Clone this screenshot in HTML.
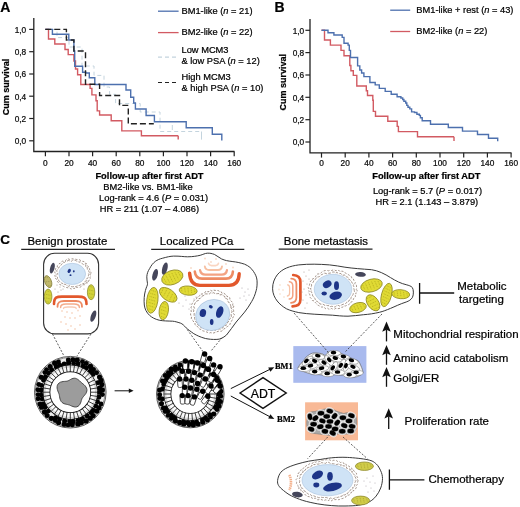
<!DOCTYPE html>
<html><head><meta charset="utf-8"><style>
html,body{margin:0;padding:0;background:#fff;}
svg{display:block;}
text{stroke:#000;stroke-width:0.22px;}
</style></head><body>
<svg width="520" height="507" viewBox="0 0 520 507">
<rect width="520" height="507" fill="#fff"/>
<g font-family='"Liberation Sans", Arial, sans-serif'>
<text x="0.2" y="11.9" font-size="14" text-anchor="start" font-weight="bold" >A</text>
<path d="M33.8,17.9 V151.5 H234.50000000000003" fill="none" stroke="#222" stroke-width="1.3"/>
<path d="M29.199999999999996,140.8 H33.8" stroke="#222" stroke-width="1.2"/>
<text x="26.2" y="144.1" font-size="8.3" text-anchor="end" font-weight="normal" fill="#111">0,0</text>
<path d="M29.199999999999996,118.5 H33.8" stroke="#222" stroke-width="1.2"/>
<text x="26.2" y="121.8" font-size="8.3" text-anchor="end" font-weight="normal" fill="#111">0,2</text>
<path d="M29.199999999999996,96.2 H33.8" stroke="#222" stroke-width="1.2"/>
<text x="26.2" y="99.5" font-size="8.3" text-anchor="end" font-weight="normal" fill="#111">0,4</text>
<path d="M29.199999999999996,74.0 H33.8" stroke="#222" stroke-width="1.2"/>
<text x="26.2" y="77.3" font-size="8.3" text-anchor="end" font-weight="normal" fill="#111">0,6</text>
<path d="M29.199999999999996,51.7 H33.8" stroke="#222" stroke-width="1.2"/>
<text x="26.2" y="55.0" font-size="8.3" text-anchor="end" font-weight="normal" fill="#111">0,8</text>
<path d="M29.199999999999996,29.4 H33.8" stroke="#222" stroke-width="1.2"/>
<text x="26.2" y="32.7" font-size="8.3" text-anchor="end" font-weight="normal" fill="#111">1,0</text>
<path d="M45.4,151.5 V156.3" stroke="#222" stroke-width="1.2"/>
<text x="45.4" y="165.9" font-size="8.3" text-anchor="middle" font-weight="normal" fill="#111">0</text>
<path d="M69.0,151.5 V156.3" stroke="#222" stroke-width="1.2"/>
<text x="69.0" y="165.9" font-size="8.3" text-anchor="middle" font-weight="normal" fill="#111">20</text>
<path d="M92.6,151.5 V156.3" stroke="#222" stroke-width="1.2"/>
<text x="92.6" y="165.9" font-size="8.3" text-anchor="middle" font-weight="normal" fill="#111">40</text>
<path d="M116.2,151.5 V156.3" stroke="#222" stroke-width="1.2"/>
<text x="116.2" y="165.9" font-size="8.3" text-anchor="middle" font-weight="normal" fill="#111">60</text>
<path d="M139.8,151.5 V156.3" stroke="#222" stroke-width="1.2"/>
<text x="139.8" y="165.9" font-size="8.3" text-anchor="middle" font-weight="normal" fill="#111">80</text>
<path d="M163.4,151.5 V156.3" stroke="#222" stroke-width="1.2"/>
<text x="163.4" y="165.9" font-size="8.3" text-anchor="middle" font-weight="normal" fill="#111">100</text>
<path d="M187.0,151.5 V156.3" stroke="#222" stroke-width="1.2"/>
<text x="187.0" y="165.9" font-size="8.3" text-anchor="middle" font-weight="normal" fill="#111">120</text>
<path d="M210.6,151.5 V156.3" stroke="#222" stroke-width="1.2"/>
<text x="210.6" y="165.9" font-size="8.3" text-anchor="middle" font-weight="normal" fill="#111">140</text>
<path d="M234.2,151.5 V156.3" stroke="#222" stroke-width="1.2"/>
<text x="234.2" y="165.9" font-size="8.3" text-anchor="middle" font-weight="normal" fill="#111">160</text>
<text transform="translate(9,86.9) rotate(-90)" font-size="9" font-weight="bold" text-anchor="middle">Cum survival</text>
<path d="M45.3,29.4 H57 V37.6 H69 V47 H82 V66 H94 V75.4 H104 V87 H109.6 V94.3 H115.6 V103.5 H140.2 V112 H160 V131.5 H201.5" fill="none" stroke="#c4d4de" stroke-width="1.0" stroke-dasharray="4,3"/>
<path d="M172.3,125 V130" stroke="#c4d4de" stroke-width="1"/><path d="M201.5,131.5 V139.6" stroke="#c4d4de" stroke-width="1"/>
<path d="M45.3,29.4 H48.5 V39 H54.8 V44 H65 V49.5 H68.2 V54.6 H73.9 V61 H75.5 V69 H77.6 V74.8 H80.8 V84.5 H90.1 V88.4 H91.9 V94.9 H96 V100.8 H97.2 V110.9 H99.6 V115 H111.2 V120.8 H121.8 V130.9 H141.4 V135.8 H178.2" fill="none" stroke="#d25a62" stroke-width="1.4"/>
<path d="M178.2,135.8 V139.5" stroke="#d25a62" stroke-width="1.4"/>
<path d="M45.3,29.4 H52.4 V34.3 H68.8 V40 H73.9 V51 H74.7 V66.3 H82.6 V72.2 H85.75 V73 H89.3 V77.7 H94.8 V84.5 H126 V90 H130.7 V97.2 H133.7 V103 H135.4 V109 H146.1 V115.5 H154.4 V121.8 H186.2 V127.8 H212.3 V134.2 H221.8 V140.4" fill="none" stroke="#4d70ae" stroke-width="1.4"/>
<path d="M45.3,29.4 H66.4 V40 H73.9 V51 H85.5 V84.3 H99.6 V95.5 H119.5 V105.4 H128.3 V123.8 H153.8" fill="none" stroke="#222" stroke-width="1.4" stroke-dasharray="6,3"/>
<path d="M158,11.2 H178.6" stroke="#4d70ae" stroke-width="1.3"/>
<text x="181.5" y="13.9" font-size="9.3" text-anchor="start" font-weight="normal" >BM1-like (<tspan font-style="italic">n</tspan> = 21)</text>
<path d="M158,32.6 H178.6" stroke="#d25a62" stroke-width="1.3"/>
<text x="181.5" y="35.3" font-size="9.3" text-anchor="start" font-weight="normal" >BM2-like (<tspan font-style="italic">n</tspan> = 22)</text>
<path d="M158,57.1 H178.6" stroke="#c4d4de" stroke-width="1.2" stroke-dasharray="4,3"/>
<text x="181.5" y="52.8" font-size="9.3" text-anchor="start" font-weight="normal" >Low MCM3</text>
<text x="181.5" y="63.6" font-size="9.3" text-anchor="start" font-weight="normal" >&amp; low PSA (<tspan font-style="italic">n</tspan> = 12)</text>
<path d="M158,82.5 H178.6" stroke="#222" stroke-width="1.2" stroke-dasharray="4,3"/>
<text x="181.5" y="80.3" font-size="9.3" text-anchor="start" font-weight="normal" >High MCM3</text>
<text x="181.5" y="91.1" font-size="9.3" text-anchor="start" font-weight="normal" >&amp; high PSA (<tspan font-style="italic">n</tspan> = 10)</text>
<text x="149.5" y="178.8" font-size="9.3" text-anchor="middle" font-weight="bold" >Follow-up after first ADT</text>
<text x="148" y="190.3" font-size="9.3" text-anchor="middle" font-weight="normal" >BM2-like vs. BM1-like</text>
<text x="153.6" y="200.9" font-size="9.3" text-anchor="middle" font-weight="normal" >Log-rank = 4.6 (<tspan font-style="italic">P</tspan> = 0.031)</text>
<text x="149.4" y="211.6" font-size="9.3" text-anchor="middle" font-weight="normal" >HR = 211 (1.07 – 4.086)</text>
<text x="274.6" y="12.0" font-size="14" text-anchor="start" font-weight="bold" >B</text>
<path d="M310,19 V152.8 H511.40000000000003" fill="none" stroke="#222" stroke-width="1.3"/>
<path d="M305.4,142.0 H310" stroke="#222" stroke-width="1.2"/>
<text x="304.2" y="145.3" font-size="8.3" text-anchor="end" font-weight="normal" fill="#111">0,0</text>
<path d="M305.4,119.7 H310" stroke="#222" stroke-width="1.2"/>
<text x="304.2" y="123.0" font-size="8.3" text-anchor="end" font-weight="normal" fill="#111">0,2</text>
<path d="M305.4,97.3 H310" stroke="#222" stroke-width="1.2"/>
<text x="304.2" y="100.6" font-size="8.3" text-anchor="end" font-weight="normal" fill="#111">0,4</text>
<path d="M305.4,75.0 H310" stroke="#222" stroke-width="1.2"/>
<text x="304.2" y="78.3" font-size="8.3" text-anchor="end" font-weight="normal" fill="#111">0,6</text>
<path d="M305.4,52.6 H310" stroke="#222" stroke-width="1.2"/>
<text x="304.2" y="55.9" font-size="8.3" text-anchor="end" font-weight="normal" fill="#111">0,8</text>
<path d="M305.4,30.3 H310" stroke="#222" stroke-width="1.2"/>
<text x="304.2" y="33.6" font-size="8.3" text-anchor="end" font-weight="normal" fill="#111">1,0</text>
<path d="M321.5,152.8 V157.60000000000002" stroke="#222" stroke-width="1.2"/>
<text x="321.5" y="166.2" font-size="8.3" text-anchor="middle" font-weight="normal" fill="#111">0</text>
<path d="M345.2,152.8 V157.60000000000002" stroke="#222" stroke-width="1.2"/>
<text x="345.2" y="166.2" font-size="8.3" text-anchor="middle" font-weight="normal" fill="#111">20</text>
<path d="M368.9,152.8 V157.60000000000002" stroke="#222" stroke-width="1.2"/>
<text x="368.9" y="166.2" font-size="8.3" text-anchor="middle" font-weight="normal" fill="#111">40</text>
<path d="M392.6,152.8 V157.60000000000002" stroke="#222" stroke-width="1.2"/>
<text x="392.6" y="166.2" font-size="8.3" text-anchor="middle" font-weight="normal" fill="#111">60</text>
<path d="M416.3,152.8 V157.60000000000002" stroke="#222" stroke-width="1.2"/>
<text x="416.3" y="166.2" font-size="8.3" text-anchor="middle" font-weight="normal" fill="#111">80</text>
<path d="M440.0,152.8 V157.60000000000002" stroke="#222" stroke-width="1.2"/>
<text x="440.0" y="166.2" font-size="8.3" text-anchor="middle" font-weight="normal" fill="#111">100</text>
<path d="M463.7,152.8 V157.60000000000002" stroke="#222" stroke-width="1.2"/>
<text x="463.7" y="166.2" font-size="8.3" text-anchor="middle" font-weight="normal" fill="#111">120</text>
<path d="M487.4,152.8 V157.60000000000002" stroke="#222" stroke-width="1.2"/>
<text x="487.4" y="166.2" font-size="8.3" text-anchor="middle" font-weight="normal" fill="#111">140</text>
<path d="M511.1,152.8 V157.60000000000002" stroke="#222" stroke-width="1.2"/>
<text x="511.1" y="166.2" font-size="8.3" text-anchor="middle" font-weight="normal" fill="#111">160</text>
<text transform="translate(285.6,82.2) rotate(-90)" font-size="9" font-weight="bold" text-anchor="middle">Cum survival</text>
<path d="M321.5,30.3 H324.5 V40 H330.4 V45.1 H341 V50.4 H344 V55.7 H349.8 V65.5 H350.9 V70.7 H353.3 V75.4 H356.8 V86 H366.3 V90.8 H367.5 V95.5 H372.8 V100.2 H373.3 V111.4 H375.5 V116.3 H387.8 V121.3 H397.2 V126.4 H398.4 V131.6 H417.5 V136.7 H454" fill="none" stroke="#d25a62" stroke-width="1.4"/>
<path d="M454,136.7 V141" stroke="#d25a62" stroke-width="1.4"/>
<path d="M321.5,30.3 H328 V32.7 H333.9 V35 H342.2 V37.4 H344 V43.3 H348.1 V45.1 H349.3 V50.4 H350.5 V57.5 H357.6 V65.9 H359.8 V70 H361.6 V73 H363.9 V76.6 H369.9 V82.5 H375.2 V84.9 H379.3 V88.4 H385.2 V91.4 H391.2 V94.3 H397.1 V96.7 H400.9 V98 H402.7 V99.5 H403.9 V101.2 H405.7 V103 H406.8 V105.4 H408 V107.2 H409.8 V108.9 H411.6 V111.9 H414.5 V112.5 H416.9 V114.3 H419.3 V115.4 H420.4 V117.8 H422.2 V120.8 H430.5 V124.3 H448.3 V127.5 H462.5 V131.1 H477.5 V134.5 H488.5 V138.3 H497.7 V141.2" fill="none" stroke="#4d70ae" stroke-width="1.4"/>
<path d="M390.2,10.2 H410.2" stroke="#4d70ae" stroke-width="1.3"/>
<text x="416.3" y="13.0" font-size="9.3" text-anchor="start" font-weight="normal" >BM1-like + rest (<tspan font-style="italic">n</tspan> = 43)</text>
<path d="M390.2,31.5 H410.2" stroke="#d25a62" stroke-width="1.3"/>
<text x="416.3" y="34.4" font-size="9.3" text-anchor="start" font-weight="normal" >BM2-like (<tspan font-style="italic">n</tspan> = 22)</text>
<text x="426.3" y="178.8" font-size="9.3" text-anchor="middle" font-weight="bold" >Follow-up after first ADT</text>
<text x="427.5" y="193.8" font-size="9.3" text-anchor="middle" font-weight="normal" >Log-rank = 5.7 (<tspan font-style="italic">P</tspan> = 0.017)</text>
<text x="426.9" y="205.1" font-size="9.3" text-anchor="middle" font-weight="normal" >HR = 2.1 (1.143 – 3.879)</text>
</g>
<g font-family='"Liberation Sans", Arial, sans-serif'>
<text x="0.3" y="243.6" font-size="13.5" text-anchor="start" font-weight="bold" >C</text>
<text x="67.4" y="244.5" font-size="11.4" text-anchor="middle" font-weight="normal" >Benign prostate</text>
<path d="M21.2,249.4 H115" stroke="#222" stroke-width="1.2"/>
<text x="196.6" y="245" font-size="11.4" text-anchor="middle" font-weight="normal" >Localized PCa</text>
<path d="M151.2,249.3 H244.3" stroke="#222" stroke-width="1.2"/>
<text x="325.9" y="244.5" font-size="11.4" text-anchor="middle" font-weight="normal" >Bone metastasis</text>
<path d="M278.7,249.1 H372.5" stroke="#222" stroke-width="1.2"/>
<rect x="43.6" y="253.3" width="55" height="80.6" rx="11" ry="11" fill="#fff" stroke="#333" stroke-width="1.1"/>
<g fill="none" stroke="#8a766a" stroke-width="0.75" stroke-linejoin="round">
<path d="M88.4,273.6 L88.8,274.7 L88.4,275.7 L88.5,276.8 L88.1,277.9 L86.8,278.5 L86.2,279.4 L86.6,281.0 L85.1,281.3 L84.2,282.1 L84.0,283.7 L82.5,283.8 L81.7,284.9 L80.2,284.9 L79.1,285.6 L77.6,285.3 L76.5,286.3 L75.2,286.8 L73.8,286.4 L72.5,286.8 L71.1,286.6 L69.9,285.6 L68.4,286.3 L67.2,285.7 L66.1,284.9 L65.1,284.1 L63.3,284.6 L62.6,283.4 L61.4,283.0 L60.2,282.3 L59.6,281.3 L58.6,280.6 L58.6,279.2 L57.5,278.5 L57.5,277.3 L56.5,276.4 L56.3,275.3 L57.4,274.1 L57.3,273.1 L57.3,272.0 L56.4,270.8 L57.6,269.9 L57.7,268.8 L58.7,268.0 L59.1,267.0 L60.0,266.2 L60.8,265.4 L61.5,264.3 L62.5,263.6 L63.3,262.6 L64.7,262.3 L65.7,261.4 L67.0,261.1 L68.3,260.5 L69.8,260.8 L71.2,261.4 L72.5,260.2 L73.8,260.1 L75.2,260.3 L76.5,261.0 L77.8,261.1 L78.8,262.2 L80.5,261.8 L81.4,262.7 L82.3,263.6 L83.1,264.6 L84.9,264.5 L85.9,265.2 L85.6,266.8 L87.2,267.2 L87.3,268.4 L87.4,269.6 L88.0,270.5 L89.0,271.4 L89.3,272.5 L88.1,273.6" stroke-dasharray="2.8,1.3"/>
<path d="M91.0,273.6 L90.0,274.8 L90.9,276.1 L90.0,277.2 L90.3,278.6 L89.9,279.9 L88.6,280.7 L88.4,282.2 L86.7,282.6 L85.4,283.3 L84.9,284.7 L83.2,284.8 L82.2,285.7 L81.1,286.6 L79.8,287.4 L78.2,287.2 L76.7,287.3 L75.5,288.8 L73.9,288.1 L72.4,289.1 L70.9,288.9 L69.5,287.9 L68.0,287.8 L66.5,287.5 L65.1,287.2 L63.7,286.5 L62.5,285.8 L61.2,285.1 L59.8,284.6 L59.2,283.3 L58.3,282.2 L57.1,281.4 L57.0,280.0 L56.4,278.9 L54.9,278.1 L55.2,276.7 L54.9,275.5 L55.6,274.2 L55.0,273.0 L54.8,271.7 L55.9,270.7 L55.4,269.3 L55.9,268.1 L57.3,267.3 L57.3,265.8 L58.3,264.9 L59.0,263.8 L60.4,263.2 L61.1,262.0 L62.3,261.2 L64.2,261.4 L65.4,260.8 L66.4,259.5 L67.8,258.7 L69.5,259.4 L70.9,259.0 L72.4,258.7 L73.9,259.1 L75.4,259.2 L76.8,259.5 L78.3,259.7 L79.8,259.8 L81.0,260.8 L82.3,261.3 L83.9,261.5 L84.4,263.1 L86.0,263.4 L87.2,264.2 L87.5,265.6 L88.2,266.7 L89.6,267.4 L89.4,268.9 L89.8,270.0 L90.4,271.2 L91.0,272.3 L90.2,273.6" stroke-dasharray="2.2,1.6"/>
</g>
<ellipse cx="72.2" cy="273.9" rx="13.4" ry="10.6" fill="#cfe3f6" stroke="#9fb8d6" stroke-width="0.5" />
<ellipse cx="69.2" cy="270.9" rx="1.5" ry="2.2" transform="rotate(30 69.2 270.9)" fill="#1d3487" stroke="none" stroke-width="1" />
<ellipse cx="73.8" cy="271.3" rx="0.9" ry="1.1" fill="#1d3487" stroke="none" stroke-width="1" />
<ellipse cx="70.5" cy="275.2" rx="1.0" ry="0.9" fill="#1d3487" stroke="none" stroke-width="1" />
<ellipse cx="52.3" cy="268.2" rx="2.2" ry="5.5" transform="rotate(15 52.3 268.2)" fill="#45465a" stroke="none" stroke-width="1" />
<ellipse cx="93.3" cy="316.1" rx="2.4" ry="6" transform="rotate(20 93.3 316.1)" fill="#45465a" stroke="none" stroke-width="1" />
<g transform="rotate(-20 48.1 281.6)">
<ellipse cx="48.1" cy="281.6" rx="3.3" ry="6.2" fill="#c0b86a" stroke="#8a8440" stroke-width="0.8"/>
<path d="M46.7,276.6 L49.5,277.6 M46.1,281.1 L50.1,282.1 M46.7,285.6 L49.5,286.6 " stroke="#a09a50" stroke-width="0.8" stroke-dasharray="1,0.8" fill="none"/>
</g>
<g>
<ellipse cx="48.1" cy="296.6" rx="3.8" ry="7.5" fill="#d2d23a" stroke="#8f9030" stroke-width="0.8"/>
<path d="M46.5,290.7 L49.7,291.7 M45.9,294.3 L50.3,295.3 M45.9,297.9 L50.3,298.9 M46.5,301.5 L49.7,302.5 " stroke="#a8a828" stroke-width="0.8" stroke-dasharray="1,0.8" fill="none"/>
</g>
<g>
<ellipse cx="91.1" cy="292.2" rx="3.7" ry="7.5" fill="#d2d23a" stroke="#8f9030" stroke-width="0.8"/>
<path d="M89.6,286.3 L92.6,287.3 M88.9,289.9 L93.3,290.9 M88.9,293.5 L93.3,294.5 M89.6,297.1 L92.6,298.1 " stroke="#a8a828" stroke-width="0.8" stroke-dasharray="1,0.8" fill="none"/>
</g>
<path d="M54,304 C54,297 57,296.6 62,296.6 H78 C83,296.6 86.5,297 86.5,304" fill="none" stroke="#e2582c" stroke-width="2.6" stroke-linecap="round"/>
<path d="M57.5,306.8 C57.5,302 60,301 64,301 H76 C80,301 82,302 82,306.8" fill="none" stroke="#ee8a62" stroke-width="1.8" stroke-linecap="round"/>
<path d="M60.6,307.4 C60.6,305 62,304 66,304 H74 C78,304 79.4,305 79.4,307.4" fill="none" stroke="#f4ad8c" stroke-width="1.5" stroke-linecap="round"/>
<path d="M63.5,308.6 C63.5,307.4 65,307 68,307 H72 C75,307 76.2,307.4 76.2,308.6" fill="none" stroke="#f8cbb4" stroke-width="1.3" stroke-linecap="round"/>
<circle cx="62" cy="311" r="1.0" fill="#f9dccb"/>
<circle cx="67" cy="312" r="1.0" fill="#f9dccb"/>
<circle cx="72" cy="313" r="1.0" fill="#f9dccb"/>
<circle cx="78" cy="310.5" r="1.0" fill="#f9dccb"/>
<circle cx="65" cy="317" r="1.0" fill="#f9dccb"/>
<circle cx="70" cy="318" r="1.0" fill="#f9dccb"/>
<circle cx="75" cy="318" r="1.0" fill="#f9dccb"/>
<circle cx="80" cy="316" r="1.0" fill="#f9dccb"/>
<circle cx="61" cy="322" r="1.0" fill="#f9dccb"/>
<circle cx="66" cy="324" r="1.0" fill="#f9dccb"/>
<circle cx="71" cy="326" r="1.0" fill="#f9dccb"/>
<circle cx="80" cy="325" r="1.0" fill="#f9dccb"/>
<circle cx="75" cy="329" r="1.0" fill="#f9dccb"/>
<circle cx="68" cy="330" r="1.0" fill="#f9dccb"/>
<circle cx="57" cy="285" r="0.5" fill="#9a8c86"/>
<circle cx="60" cy="287" r="0.5" fill="#9a8c86"/>
<circle cx="87" cy="283" r="0.5" fill="#9a8c86"/>
<circle cx="89" cy="286" r="0.5" fill="#9a8c86"/>
<circle cx="55" cy="289" r="0.5" fill="#9a8c86"/>
<circle cx="61" cy="290" r="0.5" fill="#9a8c86"/>
<circle cx="84" cy="289" r="0.5" fill="#9a8c86"/>
<circle cx="58" cy="292" r="0.5" fill="#9a8c86"/>
<circle cx="88" cy="281" r="0.5" fill="#9a8c86"/>
<circle cx="63" cy="289" r="0.5" fill="#9a8c86"/>
<path d="M52.5,334 L64,356 M91,334 L77,356" stroke="#333" stroke-width="0.8" stroke-dasharray="2,1.6" fill="none"/>
<circle cx="70.3" cy="392.2" r="35.8" fill="#fff" stroke="#333" stroke-width="0.8"/>
<circle cx="70.3" cy="392.2" r="30.799999999999997" fill="none" stroke="#eeeeee" stroke-width="7.199999999999999"/>
<circle cx="70.3" cy="392.2" r="34.699999999999996" fill="none" stroke="#444" stroke-width="0.6"/>
<circle cx="99.7" cy="392.3" r="2.54" fill="#000"/><circle cx="98.8" cy="397.0" r="2.55" fill="#000"/><circle cx="97.5" cy="401.7" r="2.49" fill="#000"/><circle cx="96.0" cy="406.2" r="2.41" fill="#000"/><circle cx="93.2" cy="410.3" r="2.58" fill="#000"/><circle cx="91.0" cy="412.7" r="2.42" fill="#000"/><circle cx="86.9" cy="415.6" r="2.54" fill="#000"/><circle cx="82.3" cy="418.7" r="2.59" fill="#000"/><circle cx="78.2" cy="420.2" r="2.48" fill="#000"/><circle cx="73.1" cy="421.4" r="2.61" fill="#000"/><circle cx="69.5" cy="421.1" r="2.42" fill="#000"/><circle cx="64.6" cy="421.0" r="2.52" fill="#000"/><circle cx="59.7" cy="418.9" r="2.46" fill="#000"/><circle cx="55.6" cy="417.8" r="2.52" fill="#000"/><circle cx="48.4" cy="411.1" r="2.43" fill="#000"/><circle cx="45.2" cy="407.3" r="2.44" fill="#000"/><circle cx="44.1" cy="404.0" r="2.64" fill="#000"/><circle cx="42.1" cy="399.1" r="2.46" fill="#000"/><circle cx="41.2" cy="395.1" r="2.43" fill="#000"/><circle cx="41.4" cy="390.3" r="2.69" fill="#000"/><circle cx="41.7" cy="385.4" r="2.46" fill="#000"/><circle cx="43.6" cy="380.3" r="2.43" fill="#000"/><circle cx="45.6" cy="377.1" r="2.63" fill="#000"/><circle cx="48.6" cy="373.3" r="2.43" fill="#000"/><circle cx="51.6" cy="369.8" r="2.51" fill="#000"/><circle cx="56.3" cy="366.7" r="2.57" fill="#000"/><circle cx="59.7" cy="365.4" r="2.67" fill="#000"/><circle cx="64.2" cy="364.0" r="2.62" fill="#000"/><circle cx="68.7" cy="362.8" r="2.66" fill="#000"/><circle cx="73.7" cy="363.6" r="2.41" fill="#000"/><circle cx="78.1" cy="364.0" r="2.48" fill="#000"/><circle cx="82.8" cy="366.1" r="2.45" fill="#000"/><circle cx="86.2" cy="368.1" r="2.57" fill="#000"/><circle cx="90.5" cy="371.5" r="2.68" fill="#000"/><circle cx="93.0" cy="374.3" r="2.53" fill="#000"/><circle cx="97.9" cy="382.8" r="2.44" fill="#000"/><circle cx="99.5" cy="388.0" r="2.60" fill="#000"/><circle cx="102.4" cy="394.6" r="2.41" fill="#000"/><circle cx="101.0" cy="404.0" r="2.41" fill="#000"/><circle cx="99.0" cy="407.8" r="2.50" fill="#000"/><circle cx="96.8" cy="411.1" r="2.62" fill="#000"/><circle cx="93.1" cy="415.6" r="2.64" fill="#000"/><circle cx="90.1" cy="418.2" r="2.67" fill="#000"/><circle cx="86.1" cy="420.9" r="2.66" fill="#000"/><circle cx="81.4" cy="422.6" r="2.57" fill="#000"/><circle cx="77.9" cy="423.9" r="2.70" fill="#000"/><circle cx="72.2" cy="424.6" r="2.62" fill="#000"/><circle cx="68.1" cy="424.9" r="2.43" fill="#000"/><circle cx="64.1" cy="424.2" r="2.54" fill="#000"/><circle cx="58.6" cy="422.5" r="2.58" fill="#000"/><circle cx="55.3" cy="420.6" r="2.49" fill="#000"/><circle cx="51.4" cy="418.3" r="2.67" fill="#000"/><circle cx="47.2" cy="415.5" r="2.50" fill="#000"/><circle cx="44.6" cy="412.0" r="2.64" fill="#000"/><circle cx="41.6" cy="407.2" r="2.57" fill="#000"/><circle cx="40.1" cy="404.1" r="2.65" fill="#000"/><circle cx="38.1" cy="398.8" r="2.48" fill="#000"/><circle cx="38.1" cy="394.6" r="2.46" fill="#000"/><circle cx="37.9" cy="389.7" r="2.49" fill="#000"/><circle cx="38.8" cy="384.5" r="2.42" fill="#000"/><circle cx="41.3" cy="377.2" r="2.57" fill="#000"/><circle cx="44.9" cy="372.6" r="2.44" fill="#000"/><circle cx="46.6" cy="369.6" r="2.47" fill="#000"/><circle cx="50.2" cy="366.5" r="2.53" fill="#000"/><circle cx="54.8" cy="363.3" r="2.69" fill="#000"/><circle cx="58.5" cy="361.9" r="2.45" fill="#000"/><circle cx="68.3" cy="360.0" r="2.48" fill="#000"/><circle cx="72.9" cy="359.8" r="2.58" fill="#000"/><circle cx="77.1" cy="360.2" r="2.67" fill="#000"/><circle cx="82.4" cy="361.8" r="2.44" fill="#000"/><circle cx="86.2" cy="363.5" r="2.51" fill="#000"/><circle cx="90.4" cy="366.4" r="2.68" fill="#000"/><circle cx="93.3" cy="369.6" r="2.62" fill="#000"/><circle cx="96.6" cy="372.8" r="2.46" fill="#000"/><circle cx="99.5" cy="377.1" r="2.56" fill="#000"/><circle cx="101.0" cy="380.5" r="2.66" fill="#000"/><circle cx="101.9" cy="384.6" r="2.57" fill="#000"/><circle cx="102.3" cy="389.9" r="2.64" fill="#000"/>
<circle cx="70.3" cy="392.2" r="23.799999999999997" fill="none" stroke="#111" stroke-width="7.6000000000000005"/>
<circle cx="70.3" cy="392.2" r="23.799999999999997" fill="none" stroke="#fafafa" stroke-width="5.9"/>
<circle cx="70.3" cy="392.2" r="25.599999999999998" fill="none" stroke="#d8d8d8" stroke-width="1.6"/>
<path d="M90.70,392.20 L97.50,392.20 M90.45,395.39 L97.17,396.46 M89.70,398.50 L96.17,400.61 M88.48,401.46 L94.54,404.55 M86.80,404.19 L92.31,408.19 M84.72,406.62 L89.53,411.43 M82.29,408.70 L86.29,414.21 M79.56,410.38 L82.65,416.44 M76.60,411.60 L78.71,418.07 M73.49,412.35 L74.56,419.07 M70.30,412.60 L70.30,419.40 M67.11,412.35 L66.04,419.07 M64.00,411.60 L61.89,418.07 M61.04,410.38 L57.95,416.44 M58.31,408.70 L54.31,414.21 M55.88,406.62 L51.07,411.43 M53.80,404.19 L48.29,408.19 M52.12,401.46 L46.06,404.55 M50.90,398.50 L44.43,400.61 M50.15,395.39 L43.43,396.46 M49.90,392.20 L43.10,392.20 M50.15,389.01 L43.43,387.94 M50.90,385.90 L44.43,383.79 M52.12,382.94 L46.06,379.85 M53.80,380.21 L48.29,376.21 M55.88,377.78 L51.07,372.97 M58.31,375.70 L54.31,370.19 M61.04,374.02 L57.95,367.96 M64.00,372.80 L61.89,366.33 M67.11,372.05 L66.04,365.33 M70.30,371.80 L70.30,365.00 M73.49,372.05 L74.56,365.33 M76.60,372.80 L78.71,366.33 M79.56,374.02 L82.65,367.96 M82.29,375.70 L86.29,370.19 M84.72,377.78 L89.53,372.97 M86.80,380.21 L92.31,376.21 M88.48,382.94 L94.54,379.85 M89.70,385.90 L96.17,383.79 M90.45,389.01 L97.17,387.94 " stroke="#111" stroke-width="0.8"/>
<path d="M86.5,392.2 L85.9,393.5 L85.1,394.6 L84.2,395.7 L83.4,396.6 L82.7,397.5 L82.1,398.4 L81.7,399.4 L81.3,400.5 L81.0,401.8 L80.5,403.0 L79.9,404.3 L79.1,405.4 L78.1,406.2 L76.9,406.8 L75.6,407.0 L74.3,406.9 L73.0,406.5 L71.8,406.1 L70.7,405.6 L69.6,405.1 L68.6,404.8 L67.5,404.5 L66.4,404.3 L65.2,404.0 L64.1,403.7 L63.0,403.1 L62.0,402.4 L61.2,401.5 L60.6,400.4 L60.1,399.2 L59.8,398.0 L59.6,396.8 L59.4,395.6 L59.2,394.5 L58.8,393.4 L58.3,392.2 L57.8,390.9 L57.4,389.6 L57.1,388.1 L57.1,386.6 L57.4,385.2 L58.1,384.0 L59.1,383.0 L60.4,382.2 L61.8,381.8 L63.2,381.5 L64.5,381.4 L65.8,381.3 L66.9,381.2 L67.9,380.9 L68.8,380.5 L69.7,380.0 L70.7,379.4 L71.8,378.8 L73.0,378.4 L74.2,378.2 L75.4,378.3 L76.5,378.7 L77.6,379.3 L78.6,380.0 L79.5,380.8 L80.3,381.6 L81.2,382.4 L82.1,383.2 L83.1,384.0 L84.1,384.8 L85.1,385.8 L85.9,386.9 L86.5,388.1 L86.9,389.4 L86.9,390.8 Z" fill="#9c9c9c" stroke="#3a3a3a" stroke-width="0.9" stroke-linejoin="round"/>
<path d="M114.6,390.8 H130" stroke="#111" stroke-width="1"/>
<path d="M133.6,390.8 L128.8,388.6 L128.8,393 Z" fill="#111"/>
</g>
<g font-family='"Liberation Sans", Arial, sans-serif'>
<path d="M149.6,268.6 C153,262 157,259.5 162.7,258.2 C167,257 170,256.2 173.7,256.1 C180,256 184,256.8 187.5,256.8 C193,256.8 197,256 200.2,255.3 C203,254.5 205,253.3 207.3,253.2 C210,253 212,253.6 214.4,254.4 C217,255.5 219,257.8 221.5,258.9 C225,260.5 228,261 232.1,261.5 C237,262 241,263 244.6,264.2 C249,266 251.5,268.5 253.4,271.3 C255.5,274.5 256.7,277 257,280.2 C257.3,284 257,288 256.1,290.8 C255,295 253.5,298.5 251.7,301.5 C249.5,305.5 247,309 244.6,312.1 C242,315.5 239,318.5 236.2,322 C233,326 230,331 226.5,335 C223,338 220,339.4 216.9,339.4 C212,339.6 209,339.2 205.4,338.5 C200,337 197,335.5 193.8,333.7 C190,331 188,329.5 186.2,327.9 C184,325.5 182.5,323.8 180.4,323.1 C177,322 175,321.4 172.7,321.2 C168,321 163,321 159.2,320.2 C155,319.2 152,317.5 149.6,315.4 C146.5,312.5 144.8,309 144.3,305 C143.8,300 144.2,295 145.4,290.6 C146.3,287 147.7,285 147.5,283.7 C147.3,281 146.6,279 146.8,276.8 C147,273.5 148,271 149.6,268.6 Z" fill="#fff" stroke="#3a3a3a" stroke-width="1"/>
<g transform="rotate(-15 212.6 311.7)" fill="none" stroke="#8a766a" stroke-width="0.75" stroke-linejoin="round">
<path d="M231.5,311.7 L231.4,313.0 L232.0,314.4 L231.2,315.6 L231.5,317.0 L230.1,317.9 L229.8,319.2 L229.6,320.6 L229.3,321.9 L227.9,322.7 L226.9,323.5 L225.8,324.3 L225.3,325.6 L223.9,326.1 L223.4,327.6 L222.2,328.3 L220.6,328.0 L219.4,328.7 L218.4,329.9 L217.0,330.0 L215.7,330.5 L214.3,329.9 L212.9,329.7 L211.6,329.9 L210.2,330.5 L209.0,329.6 L207.7,329.4 L206.3,329.1 L205.1,328.6 L203.9,328.1 L202.3,328.1 L201.8,326.4 L200.9,325.4 L199.0,325.6 L198.1,324.6 L197.0,323.7 L196.9,322.1 L195.5,321.4 L194.9,320.2 L195.3,318.6 L194.1,317.6 L193.6,316.4 L193.5,315.0 L193.5,313.7 L193.8,312.3 L193.7,311.1 L194.0,309.8 L194.4,308.6 L193.9,307.1 L194.7,306.0 L194.5,304.5 L196.1,303.8 L195.6,302.0 L196.6,301.1 L197.1,299.8 L198.0,298.8 L199.0,297.8 L200.4,297.3 L201.9,297.2 L202.5,295.6 L204.0,295.7 L205.2,294.9 L206.2,294.0 L207.6,293.8 L208.9,293.6 L210.2,292.6 L211.6,293.0 L212.9,293.4 L214.3,293.6 L215.7,292.9 L216.9,293.7 L218.4,293.6 L219.5,294.6 L220.6,295.3 L222.0,295.5 L223.4,295.8 L223.9,297.4 L225.6,297.5 L226.7,298.3 L227.5,299.4 L228.4,300.4 L228.1,302.2 L229.6,302.8 L230.5,303.9 L229.9,305.5 L230.7,306.6 L231.0,307.9 L231.6,309.1 L231.6,310.4 L231.7,311.7" stroke-dasharray="2.8,1.3"/>
<path d="M234.7,311.7 L233.5,313.1 L233.4,314.6 L233.2,316.0 L232.9,317.4 L232.3,318.8 L233.0,320.6 L232.1,321.9 L230.4,322.6 L230.0,324.2 L228.9,325.2 L227.9,326.3 L226.8,327.3 L225.9,328.6 L224.6,329.4 L223.1,329.9 L221.7,330.3 L220.4,331.1 L218.8,331.3 L217.5,332.3 L216.1,332.8 L214.5,332.5 L213.0,332.1 L211.5,332.2 L210.0,332.4 L208.4,332.5 L206.8,332.4 L205.5,331.4 L203.9,331.5 L202.6,330.6 L201.4,329.6 L200.2,328.7 L198.8,328.0 L197.5,327.2 L196.7,325.8 L195.4,325.0 L194.8,323.6 L194.2,322.1 L193.1,321.1 L192.3,319.8 L192.6,318.1 L191.7,316.8 L191.4,315.4 L190.5,314.0 L190.3,312.5 L191.1,311.0 L190.5,309.4 L190.8,307.9 L191.9,306.6 L192.1,305.1 L193.1,303.9 L192.8,302.2 L193.7,300.9 L194.2,299.5 L195.3,298.3 L196.4,297.3 L197.5,296.2 L198.8,295.4 L200.4,295.0 L201.3,293.6 L203.0,293.6 L204.3,292.8 L205.3,291.4 L207.1,292.0 L208.5,291.6 L210.0,291.4 L211.4,290.1 L213.0,291.1 L214.4,291.4 L216.1,290.4 L217.4,291.7 L219.2,291.1 L220.5,291.8 L222.1,292.2 L223.5,292.7 L224.6,294.0 L226.0,294.6 L226.5,296.4 L228.3,296.7 L229.1,298.0 L230.3,299.0 L230.4,300.7 L232.0,301.5 L232.9,302.8 L232.3,304.6 L233.1,305.9 L233.9,307.3 L234.5,308.7 L233.8,310.2 L233.8,311.7" stroke-dasharray="2.2,1.6"/>
</g>
<ellipse cx="212.7" cy="315" rx="17.3" ry="15.3" transform="rotate(-20 212.7 315)" fill="#cfe3f6" stroke="#9fb8d6" stroke-width="0.5" />
<ellipse cx="202.9" cy="313" rx="3.2" ry="4.1" transform="rotate(10 202.9 313)" fill="#1d3487" stroke="none" stroke-width="1" />
<ellipse cx="210.8" cy="306.8" rx="2.0" ry="1.6" transform="rotate(20 210.8 306.8)" fill="#1d3487" stroke="none" stroke-width="1" />
<ellipse cx="219.7" cy="312.1" rx="3.4" ry="6.0" transform="rotate(20 219.7 312.1)" fill="#1d3487" stroke="none" stroke-width="1" />
<ellipse cx="211.7" cy="321.9" rx="1.8" ry="3.0" fill="#1d3487" stroke="none" stroke-width="1" />
<ellipse cx="155.1" cy="274.8" rx="2.6" ry="6.0" transform="rotate(15 155.1 274.8)" fill="#45465a" stroke="none" stroke-width="1" />
<ellipse cx="164.8" cy="268.6" rx="2.6" ry="6.4" transform="rotate(15 164.8 268.6)" fill="#45465a" stroke="none" stroke-width="1" />
<g transform="rotate(-20 172.3 277.5)">
<ellipse cx="172.3" cy="277.5" rx="11" ry="7" fill="#e0da34" stroke="#8f8a22" stroke-width="0.8"/>
<path d="M163.9,274.6 L164.9,280.4 M167.0,273.7 L168.0,281.3 M170.2,273.3 L171.2,281.7 M173.4,273.3 L174.4,281.7 M176.6,273.7 L177.6,281.3 M179.7,274.6 L180.7,280.4 " stroke="#b5ad1c" stroke-width="0.8" stroke-dasharray="1,0.8" fill="none"/>
</g>
<g transform="rotate(8 152.3 300.3)">
<ellipse cx="152.3" cy="300.3" rx="5.6" ry="13" fill="#e0da34" stroke="#8f8a22" stroke-width="0.8"/>
<path d="M150.0,290.4 L154.6,291.4 M149.4,293.6 L155.2,294.6 M149.0,296.7 L155.6,297.7 M148.9,299.8 L155.7,300.8 M149.0,302.9 L155.6,303.9 M149.4,306.0 L155.2,307.0 M150.0,309.2 L154.6,310.2 " stroke="#b5ad1c" stroke-width="0.8" stroke-dasharray="1,0.8" fill="none"/>
</g>
<g transform="rotate(35 168.2 294.8)">
<ellipse cx="168.2" cy="294.8" rx="10" ry="5.6" fill="#e0da34" stroke="#8f8a22" stroke-width="0.8"/>
<path d="M160.5,292.5 L161.5,297.1 M164.1,291.7 L165.1,297.9 M167.7,291.4 L168.7,298.2 M171.3,291.7 L172.3,297.9 M174.9,292.5 L175.9,297.1 " stroke="#b5ad1c" stroke-width="0.8" stroke-dasharray="1,0.8" fill="none"/>
</g>
<g transform="rotate(5 188.2 290.6)">
<ellipse cx="188.2" cy="290.6" rx="9" ry="4.6" fill="#e0da34" stroke="#8f8a22" stroke-width="0.8"/>
<path d="M181.2,288.7 L182.2,292.5 M184.5,288.0 L185.5,293.2 M187.7,287.8 L188.7,293.4 M190.9,288.0 L191.9,293.2 M194.2,288.7 L195.2,292.5 " stroke="#b5ad1c" stroke-width="0.8" stroke-dasharray="1,0.8" fill="none"/>
</g>
<g transform="rotate(8 163.8 310.6)">
<ellipse cx="163.8" cy="310.6" rx="4.6" ry="9.2" fill="#e0da34" stroke="#8f8a22" stroke-width="0.8"/>
<path d="M161.9,303.5 L165.7,304.5 M161.2,306.8 L166.4,307.8 M161.0,310.1 L166.6,311.1 M161.2,313.4 L166.4,314.4 M161.9,316.7 L165.7,317.7 " stroke="#b5ad1c" stroke-width="0.8" stroke-dasharray="1,0.8" fill="none"/>
</g>
<path d="M189.6,273.2 C190,281 193,285.4 200,285.4 H229 C236,285.4 238.9,281 239.2,273.8" fill="none" stroke="#e2582c" stroke-width="3.4" stroke-linecap="round"/>
<path d="M194.8,271.6 C195.3,276.5 197.5,278.6 202,278.6 H226 C230.5,278.6 232.6,276.5 232.9,271.6" fill="none" stroke="#ee8c64" stroke-width="2.6" stroke-linecap="round"/>
<path d="M200,270 C200.5,273 202,274.6 205.5,274.6 H221.5 C225,274.6 226.6,273 227,270" fill="none" stroke="#f3a383" stroke-width="2.2" stroke-linecap="round"/>
<path d="M204.8,266.4 C205.2,268.8 206.5,270 209,270 H218 C220.5,270 221.7,268.8 222,266.4" fill="none" stroke="#f7c0a2" stroke-width="1.9" stroke-linecap="round"/>
<path d="M208.5,263.2 C208.8,264.8 209.8,265.6 211.5,265.6 H215.5 C217.2,265.6 218.2,264.8 218.5,263.2" fill="none" stroke="#fad6c2" stroke-width="1.6" stroke-linecap="round"/>
<circle cx="205" cy="258.5" r="1.0" fill="#f9dccb"/>
<circle cx="211" cy="262" r="1.0" fill="#f9dccb"/>
<circle cx="226" cy="264" r="1.0" fill="#f9dccb"/>
<circle cx="233" cy="267.5" r="1.0" fill="#f9dccb"/>
<circle cx="191" cy="268" r="1.0" fill="#f9dccb"/>
<circle cx="216" cy="259" r="1.0" fill="#f9dccb"/>
<circle cx="242" cy="288" r="0.55" fill="#a8a0a8"/>
<circle cx="245" cy="292" r="0.55" fill="#a8a0a8"/>
<circle cx="248" cy="289" r="0.55" fill="#a8a0a8"/>
<circle cx="244" cy="296" r="0.55" fill="#a8a0a8"/>
<circle cx="249" cy="295" r="0.55" fill="#a8a0a8"/>
<circle cx="240" cy="298" r="0.55" fill="#a8a0a8"/>
<circle cx="246" cy="300" r="0.55" fill="#a8a0a8"/>
<circle cx="186" cy="300" r="0.55" fill="#a8a0a8"/>
<circle cx="190" cy="304" r="0.55" fill="#a8a0a8"/>
<circle cx="194" cy="299" r="0.55" fill="#a8a0a8"/>
<circle cx="183" cy="306" r="0.55" fill="#a8a0a8"/>
<circle cx="189" cy="309" r="0.55" fill="#a8a0a8"/>
<circle cx="196" cy="297" r="0.55" fill="#a8a0a8"/>
<circle cx="185" cy="296" r="0.55" fill="#a8a0a8"/>
<circle cx="179" cy="303" r="0.55" fill="#a8a0a8"/>
<path d="M187.3,329.6 L204,353 M222,337.7 L211,351" stroke="#333" stroke-width="0.8" stroke-dasharray="2,1.6" fill="none"/>
<circle cx="190.3" cy="394" r="33.8" fill="#fff" stroke="#333" stroke-width="0.8"/>
<circle cx="190.3" cy="394" r="29.5" fill="none" stroke="#eeeeee" stroke-width="6.200000000000003"/>
<circle cx="190.3" cy="394" r="32.9" fill="none" stroke="#444" stroke-width="0.6"/>
<circle cx="218.8" cy="394.3" r="2.68" fill="#000"/><circle cx="217.7" cy="399.2" r="2.54" fill="#000"/><circle cx="217.3" cy="403.5" r="2.43" fill="#000"/><circle cx="215.4" cy="407.2" r="2.57" fill="#000"/><circle cx="209.9" cy="414.9" r="2.63" fill="#000"/><circle cx="205.3" cy="417.7" r="2.59" fill="#000"/><circle cx="202.4" cy="419.9" r="2.46" fill="#000"/><circle cx="196.6" cy="421.9" r="2.49" fill="#000"/><circle cx="192.6" cy="422.3" r="2.46" fill="#000"/><circle cx="187.7" cy="422.6" r="2.67" fill="#000"/><circle cx="183.6" cy="421.2" r="2.44" fill="#000"/><circle cx="174.9" cy="417.3" r="2.60" fill="#000"/><circle cx="171.2" cy="415.2" r="2.54" fill="#000"/><circle cx="167.9" cy="411.5" r="2.42" fill="#000"/><circle cx="165.6" cy="408.2" r="2.65" fill="#000"/><circle cx="162.4" cy="398.9" r="2.40" fill="#000"/><circle cx="162.7" cy="388.8" r="2.63" fill="#000"/><circle cx="163.9" cy="384.3" r="2.51" fill="#000"/><circle cx="165.9" cy="380.3" r="2.62" fill="#000"/><circle cx="168.6" cy="376.5" r="2.68" fill="#000"/><circle cx="170.9" cy="373.3" r="2.68" fill="#000"/><circle cx="175.3" cy="370.0" r="2.49" fill="#000"/><circle cx="178.7" cy="368.6" r="2.44" fill="#000"/><circle cx="184.1" cy="366.7" r="2.41" fill="#000"/><circle cx="188.0" cy="365.9" r="2.47" fill="#000"/><circle cx="193.1" cy="365.9" r="2.53" fill="#000"/><circle cx="201.1" cy="367.8" r="2.65" fill="#000"/><circle cx="206.3" cy="370.2" r="2.59" fill="#000"/><circle cx="209.0" cy="372.8" r="2.44" fill="#000"/><circle cx="212.4" cy="376.4" r="2.70" fill="#000"/><circle cx="215.5" cy="381.1" r="2.55" fill="#000"/><circle cx="216.9" cy="384.8" r="2.52" fill="#000"/><circle cx="218.6" cy="389.1" r="2.69" fill="#000"/><circle cx="220.8" cy="396.3" r="2.43" fill="#000"/><circle cx="220.4" cy="401.5" r="2.51" fill="#000"/><circle cx="218.8" cy="405.9" r="2.60" fill="#000"/><circle cx="216.9" cy="409.6" r="2.48" fill="#000"/><circle cx="213.8" cy="413.9" r="2.49" fill="#000"/><circle cx="210.6" cy="417.1" r="2.40" fill="#000"/><circle cx="207.4" cy="419.7" r="2.54" fill="#000"/><circle cx="202.7" cy="422.3" r="2.50" fill="#000"/><circle cx="198.1" cy="424.0" r="2.51" fill="#000"/><circle cx="193.3" cy="424.7" r="2.69" fill="#000"/><circle cx="189.1" cy="424.7" r="2.45" fill="#000"/><circle cx="183.8" cy="424.0" r="2.61" fill="#000"/><circle cx="179.7" cy="422.5" r="2.63" fill="#000"/><circle cx="175.4" cy="420.8" r="2.59" fill="#000"/><circle cx="171.4" cy="418.4" r="2.41" fill="#000"/><circle cx="168.2" cy="415.4" r="2.47" fill="#000"/><circle cx="165.4" cy="411.3" r="2.54" fill="#000"/><circle cx="163.4" cy="408.1" r="2.50" fill="#000"/><circle cx="161.5" cy="403.6" r="2.54" fill="#000"/><circle cx="159.9" cy="398.5" r="2.47" fill="#000"/><circle cx="159.7" cy="394.8" r="2.48" fill="#000"/><circle cx="159.6" cy="389.9" r="2.51" fill="#000"/><circle cx="162.5" cy="380.9" r="2.50" fill="#000"/><circle cx="165.4" cy="375.6" r="2.53" fill="#000"/><circle cx="168.4" cy="372.6" r="2.44" fill="#000"/><circle cx="171.5" cy="369.2" r="2.69" fill="#000"/><circle cx="175.3" cy="366.9" r="2.40" fill="#000"/><circle cx="180.0" cy="365.0" r="2.44" fill="#000"/><circle cx="185.1" cy="363.9" r="2.53" fill="#000"/><circle cx="188.8" cy="363.0" r="2.51" fill="#000"/><circle cx="194.5" cy="363.5" r="2.48" fill="#000"/><circle cx="198.4" cy="364.5" r="2.50" fill="#000"/><circle cx="202.8" cy="366.1" r="2.54" fill="#000"/><circle cx="207.1" cy="368.4" r="2.49" fill="#000"/><circle cx="210.8" cy="371.7" r="2.56" fill="#000"/><circle cx="214.6" cy="374.8" r="2.47" fill="#000"/><circle cx="216.7" cy="377.7" r="2.49" fill="#000"/><circle cx="218.9" cy="382.4" r="2.58" fill="#000"/><circle cx="220.3" cy="386.4" r="2.49" fill="#000"/><circle cx="220.7" cy="391.4" r="2.56" fill="#000"/>
<circle cx="190.3" cy="394" r="22.9" fill="none" stroke="#111" stroke-width="7.8"/>
<circle cx="190.3" cy="394" r="22.9" fill="none" stroke="#fafafa" stroke-width="6.1"/>
<circle cx="190.3" cy="394" r="24.799999999999997" fill="none" stroke="#d8d8d8" stroke-width="1.6"/>
<path d="M209.70,394.00 L216.70,394.00 M209.44,397.19 L216.34,398.35 M208.65,400.30 L215.27,402.57 M207.36,403.23 L213.52,406.57 M205.61,405.92 L211.13,410.22 M203.44,408.27 L208.18,413.42 M200.91,410.24 L204.74,416.10 M198.09,411.77 L200.90,418.18 M195.06,412.81 L196.78,419.59 M191.90,413.33 L192.48,420.31 M188.70,413.33 L188.12,420.31 M185.54,412.81 L183.82,419.59 M182.51,411.77 L179.70,418.18 M179.69,410.24 L175.86,416.10 M177.16,408.27 L172.42,413.42 M174.99,405.92 L169.47,410.22 M173.24,403.23 L167.08,406.57 M171.95,400.30 L165.33,402.57 M171.16,397.19 L164.26,398.35 M170.90,394.00 L163.90,394.00 M171.16,390.81 L164.26,389.65 M171.95,387.70 L165.33,385.43 M173.24,384.77 L167.08,381.43 M174.99,382.08 L169.47,377.78 M177.16,379.73 L172.42,374.58 M179.69,377.76 L175.86,371.90 M182.51,376.23 L179.70,369.82 M185.54,375.19 L183.82,368.41 M188.70,374.67 L188.12,367.69 M191.90,374.67 L192.48,367.69 M195.06,375.19 L196.78,368.41 M198.09,376.23 L200.90,369.82 M200.91,377.76 L204.74,371.90 M203.44,379.73 L208.18,374.58 M205.61,382.08 L211.13,377.78 M207.36,384.77 L213.52,381.43 M208.65,387.70 L215.27,385.43 M209.44,390.81 L216.34,389.65 " stroke="#111" stroke-width="0.8"/>
<rect x="202.3" y="354.0" width="4.6" height="8.5" rx="1.5" transform="rotate(15 204.6 354)" fill="#fff" stroke="#111" stroke-width="0.7"/><rect x="207.4" y="358.5" width="4.6" height="8.5" rx="1.5" transform="rotate(20 209.7 358.5)" fill="#fff" stroke="#111" stroke-width="0.7"/><rect x="211.3" y="364.9" width="4.6" height="8.5" rx="1.5" transform="rotate(25 213.6 364.9)" fill="#fff" stroke="#111" stroke-width="0.7"/><rect x="217.7" y="366.8" width="4.6" height="8.5" rx="1.5" transform="rotate(30 220 366.8)" fill="#fff" stroke="#111" stroke-width="0.7"/><rect x="183.1" y="361.0" width="4.6" height="8.5" rx="1.5" transform="rotate(1 185.4 361)" fill="#fff" stroke="#111" stroke-width="0.7"/><rect x="189.5" y="361.7" width="4.6" height="8.5" rx="1.5" transform="rotate(6 191.8 361.7)" fill="#fff" stroke="#111" stroke-width="0.7"/><rect x="195.3" y="363.0" width="4.6" height="8.5" rx="1.5" transform="rotate(12 197.6 363)" fill="#fff" stroke="#111" stroke-width="0.7"/><rect x="201.0" y="365.5" width="4.6" height="8.5" rx="1.5" transform="rotate(17 203.3 365.5)" fill="#fff" stroke="#111" stroke-width="0.7"/><rect x="206.2" y="369.4" width="4.6" height="8.5" rx="1.5" transform="rotate(22 208.5 369.4)" fill="#fff" stroke="#111" stroke-width="0.7"/><rect x="211.3" y="374.5" width="4.6" height="8.5" rx="1.5" transform="rotate(29 213.6 374.5)" fill="#fff" stroke="#111" stroke-width="0.7"/><rect x="215.1" y="380.3" width="4.6" height="8.5" rx="1.5" transform="rotate(35 217.4 380.3)" fill="#fff" stroke="#111" stroke-width="0.7"/><rect x="217.7" y="386.0" width="4.6" height="8.5" rx="1.5" transform="rotate(40 220 386)" fill="#fff" stroke="#111" stroke-width="0.7"/><rect x="179.9" y="371.3" width="4.6" height="8.5" rx="1.5" transform="rotate(-2 182.2 371.3)" fill="#fff" stroke="#111" stroke-width="0.7"/><rect x="186.3" y="371.3" width="4.6" height="8.5" rx="1.5" transform="rotate(4 188.6 371.3)" fill="#fff" stroke="#111" stroke-width="0.7"/><rect x="192.1" y="372.6" width="4.6" height="8.5" rx="1.5" transform="rotate(10 194.4 372.6)" fill="#fff" stroke="#111" stroke-width="0.7"/><rect x="197.8" y="375.1" width="4.6" height="8.5" rx="1.5" transform="rotate(17 200.1 375.1)" fill="#fff" stroke="#111" stroke-width="0.7"/><rect x="203.0" y="379.0" width="4.6" height="8.5" rx="1.5" transform="rotate(23 205.3 379)" fill="#fff" stroke="#111" stroke-width="0.7"/><rect x="208.7" y="386.0" width="4.6" height="8.5" rx="1.5" transform="rotate(32 211 386)" fill="#fff" stroke="#111" stroke-width="0.7"/><rect x="205.5" y="396.3" width="4.6" height="8.5" rx="1.5" transform="rotate(37 207.8 396.3)" fill="#fff" stroke="#111" stroke-width="0.7"/><rect x="177.3" y="379.0" width="4.6" height="8.5" rx="1.5" transform="rotate(-5 179.6 379)" fill="#fff" stroke="#111" stroke-width="0.7"/><rect x="183.7" y="379.0" width="4.6" height="8.5" rx="1.5" transform="rotate(2 186 379)" fill="#fff" stroke="#111" stroke-width="0.7"/><rect x="189.5" y="380.3" width="4.6" height="8.5" rx="1.5" transform="rotate(9 191.8 380.3)" fill="#fff" stroke="#111" stroke-width="0.7"/><rect x="195.3" y="383.5" width="4.6" height="8.5" rx="1.5" transform="rotate(17 197.6 383.5)" fill="#fff" stroke="#111" stroke-width="0.7"/><rect x="200.4" y="391.2" width="4.6" height="8.5" rx="1.5" transform="rotate(27 202.7 391.2)" fill="#fff" stroke="#111" stroke-width="0.7"/><rect x="182.4" y="387.3" width="4.6" height="8.5" rx="1.5" transform="rotate(1 184.7 387.3)" fill="#fff" stroke="#111" stroke-width="0.7"/><rect x="188.2" y="388.0" width="4.6" height="8.5" rx="1.5" transform="rotate(9 190.5 388)" fill="#fff" stroke="#111" stroke-width="0.7"/><rect x="194.6" y="389.2" width="4.6" height="8.5" rx="1.5" transform="rotate(18 196.9 389.2)" fill="#fff" stroke="#111" stroke-width="0.7"/><rect x="179.9" y="395.6" width="4.6" height="8.5" rx="1.5" transform="rotate(-4 182.2 395.6)" fill="#fff" stroke="#111" stroke-width="0.7"/><rect x="185.7" y="395.6" width="4.6" height="8.5" rx="1.5" transform="rotate(7 188 395.6)" fill="#fff" stroke="#111" stroke-width="0.7"/><rect x="192.1" y="396.9" width="4.6" height="8.5" rx="1.5" transform="rotate(18 194.4 396.9)" fill="#fff" stroke="#111" stroke-width="0.7"/>
<circle cx="204.6" cy="354" r="2.7" fill="#000"/>
<circle cx="209.7" cy="358.5" r="2.7" fill="#000"/>
<circle cx="213.6" cy="364.9" r="2.7" fill="#000"/>
<circle cx="220" cy="366.8" r="2.7" fill="#000"/>
<circle cx="185.4" cy="361" r="2.7" fill="#000"/>
<circle cx="191.8" cy="361.7" r="2.7" fill="#000"/>
<circle cx="197.6" cy="363" r="2.7" fill="#000"/>
<circle cx="203.3" cy="365.5" r="2.7" fill="#000"/>
<circle cx="208.5" cy="369.4" r="2.7" fill="#000"/>
<circle cx="213.6" cy="374.5" r="2.7" fill="#000"/>
<circle cx="217.4" cy="380.3" r="2.7" fill="#000"/>
<circle cx="220" cy="386" r="2.7" fill="#000"/>
<circle cx="182.2" cy="371.3" r="2.7" fill="#000"/>
<circle cx="188.6" cy="371.3" r="2.7" fill="#000"/>
<circle cx="194.4" cy="372.6" r="2.7" fill="#000"/>
<circle cx="200.1" cy="375.1" r="2.7" fill="#000"/>
<circle cx="205.3" cy="379" r="2.7" fill="#000"/>
<circle cx="211" cy="386" r="2.7" fill="#000"/>
<circle cx="207.8" cy="396.3" r="2.7" fill="#000"/>
<circle cx="179.6" cy="379" r="2.7" fill="#000"/>
<circle cx="186" cy="379" r="2.7" fill="#000"/>
<circle cx="191.8" cy="380.3" r="2.7" fill="#000"/>
<circle cx="197.6" cy="383.5" r="2.7" fill="#000"/>
<circle cx="202.7" cy="391.2" r="2.7" fill="#000"/>
<circle cx="184.7" cy="387.3" r="2.7" fill="#000"/>
<circle cx="190.5" cy="388" r="2.7" fill="#000"/>
<circle cx="196.9" cy="389.2" r="2.7" fill="#000"/>
<circle cx="182.2" cy="395.6" r="2.7" fill="#000"/>
<circle cx="188" cy="395.6" r="2.7" fill="#000"/>
<circle cx="194.4" cy="396.9" r="2.7" fill="#000"/>
</g>
<g font-family='"Liberation Sans", Arial, sans-serif'>
<path d="M240,393 L263,377.6 L286.2,393 L263,408.4 Z" fill="#fff" stroke="#111" stroke-width="1.45"/>
<text x="263.1" y="397.6" font-size="12.3" text-anchor="middle" font-weight="normal" >ADT</text>
<path d="M230.8,388.6 L270,369.3 M230.8,396 L270,416.8" stroke="#111" stroke-width="1"/>
<path d="M274.3,367.2 L268.2,367.6 L270.4,371.8 Z" fill="#111"/>
<path d="M274.3,418.9 L270.4,414.3 L268.2,418.6 Z" fill="#111"/>
<text x="274.9" y="369.2" font-family='"Liberation Serif", "Times New Roman", serif' font-size="8.4" font-weight="bold">BM1</text>
<text x="277" y="421.6" font-family='"Liberation Serif", "Times New Roman", serif' font-size="8.6" font-weight="bold">BM2</text>
<rect x="293.3" y="346.1" width="73.1" height="36.7" fill="#a9baee"/>
<rect x="305.1" y="402.3" width="52.9" height="38" fill="#f8b996"/>
<path d="M298.1,367.5 C300,364 302,362 302.9,361.9 C304.5,359 306,356.5 307.8,355.7 C310,354 312,353 314,352.9 C317,352.6 319,353.3 319.5,353.3 C322,353.5 324,354.5 325.1,355.7 C327,353 329,351.5 330.9,351.1 C336,351 340,352.5 342.6,354 C345.5,355.5 347.5,356.5 349.9,357.7 C353,359 356,360 358,360.6 L359.4,362.4 C361,366 362.5,369 363.1,372.3 C361,375 359,376.2 357.2,376.7 C354,377.3 352,377.4 349.9,377.4 C346,376.6 344,375.6 342.6,375.2 C339,374.8 337,374.6 335.3,374.5 C331,375.6 329.5,375.8 328.5,375.8 C326,375.3 325,375.1 323.7,375.1 C320,374.8 318.5,374.6 316.8,374.4 C314,374.2 312,374 309.9,373.7 C306,372.5 303,371.5 300.2,370.2 C299,369.5 298.4,368.5 298.1,367.5 Z" fill="#f2f2f2" stroke="#555" stroke-width="0.6"/>
<ellipse cx="318.6" cy="356.3" rx="6.4" ry="2.7" transform="rotate(10 317.8 355.7)" fill="#fff" stroke="#666" stroke-width="0.45"/><ellipse cx="307.2" cy="361.5" rx="6.4" ry="2.7" transform="rotate(-40 306.4 360.9)" fill="#fff" stroke="#666" stroke-width="0.45"/><ellipse cx="315.5" cy="361.5" rx="6.4" ry="2.7" transform="rotate(20 314.7 360.9)" fill="#fff" stroke="#666" stroke-width="0.45"/><ellipse cx="324.8" cy="363.2" rx="6.4" ry="2.7" transform="rotate(30 324 362.6)" fill="#fff" stroke="#666" stroke-width="0.45"/><ellipse cx="311.3" cy="366.3" rx="6.4" ry="2.7" transform="rotate(-10 310.5 365.7)" fill="#fff" stroke="#666" stroke-width="0.45"/><ellipse cx="304.1" cy="368.8" rx="6.4" ry="2.7" transform="rotate(0 303.3 368.2)" fill="#fff" stroke="#666" stroke-width="0.45"/><ellipse cx="322.4" cy="368.8" rx="6.4" ry="2.7" transform="rotate(-10 321.6 368.2)" fill="#fff" stroke="#666" stroke-width="0.45"/><ellipse cx="315.5" cy="372.2" rx="6.4" ry="2.7" transform="rotate(0 314.7 371.6)" fill="#fff" stroke="#666" stroke-width="0.45"/><ellipse cx="328.0" cy="374.0" rx="6.4" ry="2.7" transform="rotate(0 327.2 373.4)" fill="#fff" stroke="#666" stroke-width="0.45"/><ellipse cx="330.0" cy="360.4" rx="6.4" ry="2.7" transform="rotate(50 329.2 359.8)" fill="#fff" stroke="#666" stroke-width="0.45"/><ellipse cx="334.3" cy="353.2" rx="6.4" ry="2.7" transform="rotate(0 333.5 352.6)" fill="#fff" stroke="#666" stroke-width="0.45"/><ellipse cx="336.1" cy="358.7" rx="6.4" ry="2.7" transform="rotate(15 335.3 358.1)" fill="#fff" stroke="#666" stroke-width="0.45"/><ellipse cx="344.2" cy="357.2" rx="6.4" ry="2.7" transform="rotate(10 343.4 356.6)" fill="#fff" stroke="#666" stroke-width="0.45"/><ellipse cx="352.2" cy="360.9" rx="6.4" ry="2.7" transform="rotate(15 351.4 360.3)" fill="#fff" stroke="#666" stroke-width="0.45"/><ellipse cx="341.6" cy="366.0" rx="6.4" ry="2.7" transform="rotate(-60 340.8 365.4)" fill="#fff" stroke="#666" stroke-width="0.45"/><ellipse cx="346.7" cy="366.3" rx="6.4" ry="2.7" transform="rotate(-70 345.9 365.7)" fill="#fff" stroke="#666" stroke-width="0.45"/><ellipse cx="333.6" cy="368.5" rx="6.4" ry="2.7" transform="rotate(-60 332.8 367.9)" fill="#fff" stroke="#666" stroke-width="0.45"/><ellipse cx="353.7" cy="367.4" rx="6.4" ry="2.7" transform="rotate(20 352.9 366.8)" fill="#fff" stroke="#666" stroke-width="0.45"/><ellipse cx="338.3" cy="372.6" rx="6.4" ry="2.7" transform="rotate(0 337.5 372)" fill="#fff" stroke="#666" stroke-width="0.45"/><ellipse cx="356.9" cy="372.9" rx="6.4" ry="2.7" transform="rotate(0 356.1 372.3)" fill="#fff" stroke="#666" stroke-width="0.45"/><ellipse cx="350.0" cy="375.2" rx="6.4" ry="2.7" transform="rotate(0 349.2 374.6)" fill="#fff" stroke="#666" stroke-width="0.45"/><ellipse cx="317.8" cy="355.7" rx="2.8" ry="1.85" transform="rotate(10 317.8 355.7)" fill="#000"/><ellipse cx="306.4" cy="360.9" rx="2.8" ry="1.85" transform="rotate(-40 306.4 360.9)" fill="#000"/><ellipse cx="314.7" cy="360.9" rx="2.8" ry="1.85" transform="rotate(20 314.7 360.9)" fill="#000"/><ellipse cx="324" cy="362.6" rx="2.8" ry="1.85" transform="rotate(30 324 362.6)" fill="#000"/><ellipse cx="310.5" cy="365.7" rx="2.8" ry="1.85" transform="rotate(-10 310.5 365.7)" fill="#000"/><ellipse cx="303.3" cy="368.2" rx="2.8" ry="1.85" transform="rotate(0 303.3 368.2)" fill="#000"/><ellipse cx="321.6" cy="368.2" rx="2.8" ry="1.85" transform="rotate(-10 321.6 368.2)" fill="#000"/><ellipse cx="314.7" cy="371.6" rx="2.8" ry="1.85" transform="rotate(0 314.7 371.6)" fill="#000"/><ellipse cx="327.2" cy="373.4" rx="2.8" ry="1.85" transform="rotate(0 327.2 373.4)" fill="#000"/><ellipse cx="329.2" cy="359.8" rx="2.8" ry="1.85" transform="rotate(50 329.2 359.8)" fill="#000"/><ellipse cx="333.5" cy="352.6" rx="2.8" ry="1.85" transform="rotate(0 333.5 352.6)" fill="#000"/><ellipse cx="335.3" cy="358.1" rx="2.8" ry="1.85" transform="rotate(15 335.3 358.1)" fill="#000"/><ellipse cx="343.4" cy="356.6" rx="2.8" ry="1.85" transform="rotate(10 343.4 356.6)" fill="#000"/><ellipse cx="351.4" cy="360.3" rx="2.8" ry="1.85" transform="rotate(15 351.4 360.3)" fill="#000"/><ellipse cx="340.8" cy="365.4" rx="2.8" ry="1.85" transform="rotate(-60 340.8 365.4)" fill="#000"/><ellipse cx="345.9" cy="365.7" rx="2.8" ry="1.85" transform="rotate(-70 345.9 365.7)" fill="#000"/><ellipse cx="332.8" cy="367.9" rx="2.8" ry="1.85" transform="rotate(-60 332.8 367.9)" fill="#000"/><ellipse cx="352.9" cy="366.8" rx="2.8" ry="1.85" transform="rotate(20 352.9 366.8)" fill="#000"/><ellipse cx="337.5" cy="372" rx="2.8" ry="1.85" transform="rotate(0 337.5 372)" fill="#000"/><ellipse cx="356.1" cy="372.3" rx="2.8" ry="1.85" transform="rotate(0 356.1 372.3)" fill="#000"/><ellipse cx="349.2" cy="374.6" rx="2.8" ry="1.85" transform="rotate(0 349.2 374.6)" fill="#000"/>
<path d="M307.6,414.7 C309,412 312,411.5 315,411.5 C317,410.5 319,410.5 319.6,411.1 C322,409.5 325,408.5 327.4,409 C331,408.3 334,409.5 336,411 C339,412 342,413 344,413.5 C346,412.5 347.5,412.5 348.6,413.2 C352,412.5 355,414 356,416.8 C357,420 356.8,424 356.4,426.7 C356,430 355,432.5 352.9,433.1 C348,434.5 343,434.3 338.7,433.8 C336,434.8 334.5,435.6 333,435.6 C329,435.6 326,434.8 323,434.5 C318,434 314,433.5 311,433 C308.5,432 308,431.5 308.3,430.3 C306.5,427 306.5,423 307,419.5 C307,417 307.2,415.6 307.6,414.7 Z" fill="#a8a8a8" stroke="#777" stroke-width="0.5"/>
<ellipse cx="310" cy="416.8" rx="4.4" ry="3.4" transform="rotate(80 310 416.8)" fill="#a0a0a0" stroke="#fff" stroke-width="0.7"/><ellipse cx="315.4" cy="418.2" rx="4.4" ry="3.4" transform="rotate(-40 315.4 418.2)" fill="#a0a0a0" stroke="#fff" stroke-width="0.7"/><ellipse cx="321" cy="413.2" rx="4.4" ry="3.4" transform="rotate(0 321 413.2)" fill="#a0a0a0" stroke="#fff" stroke-width="0.7"/><ellipse cx="329.8" cy="411.1" rx="4.4" ry="3.4" transform="rotate(15 329.8 411.1)" fill="#a0a0a0" stroke="#fff" stroke-width="0.7"/><ellipse cx="326.7" cy="416.4" rx="4.4" ry="3.4" transform="rotate(0 326.7 416.4)" fill="#a0a0a0" stroke="#fff" stroke-width="0.7"/><ellipse cx="334.5" cy="416.1" rx="4.4" ry="3.4" transform="rotate(-50 334.5 416.1)" fill="#a0a0a0" stroke="#fff" stroke-width="0.7"/><ellipse cx="342.9" cy="417.8" rx="4.4" ry="3.4" transform="rotate(0 342.9 417.8)" fill="#a0a0a0" stroke="#fff" stroke-width="0.7"/><ellipse cx="351.4" cy="415.7" rx="4.4" ry="3.4" transform="rotate(20 351.4 415.7)" fill="#a0a0a0" stroke="#fff" stroke-width="0.7"/><ellipse cx="313.6" cy="424.2" rx="4.4" ry="3.4" transform="rotate(0 313.6 424.2)" fill="#a0a0a0" stroke="#fff" stroke-width="0.7"/><ellipse cx="322.5" cy="421" rx="4.4" ry="3.4" transform="rotate(20 322.5 421)" fill="#a0a0a0" stroke="#fff" stroke-width="0.7"/><ellipse cx="330" cy="421.6" rx="4.4" ry="3.4" transform="rotate(0 330 421.6)" fill="#a0a0a0" stroke="#fff" stroke-width="0.7"/><ellipse cx="337.2" cy="422.8" rx="4.4" ry="3.4" transform="rotate(-50 337.2 422.8)" fill="#a0a0a0" stroke="#fff" stroke-width="0.7"/><ellipse cx="349" cy="421" rx="4.4" ry="3.4" transform="rotate(0 349 421)" fill="#a0a0a0" stroke="#fff" stroke-width="0.7"/><ellipse cx="311.1" cy="429.2" rx="4.4" ry="3.4" transform="rotate(20 311.1 429.2)" fill="#a0a0a0" stroke="#fff" stroke-width="0.7"/><ellipse cx="320.3" cy="426.7" rx="4.4" ry="3.4" transform="rotate(-10 320.3 426.7)" fill="#a0a0a0" stroke="#fff" stroke-width="0.7"/><ellipse cx="328.6" cy="426.4" rx="4.4" ry="3.4" transform="rotate(0 328.6 426.4)" fill="#a0a0a0" stroke="#fff" stroke-width="0.7"/><ellipse cx="344.3" cy="425.7" rx="4.4" ry="3.4" transform="rotate(20 344.3 425.7)" fill="#a0a0a0" stroke="#fff" stroke-width="0.7"/><ellipse cx="352.1" cy="426.4" rx="4.4" ry="3.4" transform="rotate(10 352.1 426.4)" fill="#a0a0a0" stroke="#fff" stroke-width="0.7"/><ellipse cx="325" cy="431.3" rx="4.4" ry="3.4" transform="rotate(10 325 431.3)" fill="#a0a0a0" stroke="#fff" stroke-width="0.7"/><ellipse cx="332.7" cy="433" rx="4.4" ry="3.4" transform="rotate(30 332.7 433)" fill="#a0a0a0" stroke="#fff" stroke-width="0.7"/><ellipse cx="335.1" cy="428.9" rx="4.4" ry="3.4" transform="rotate(0 335.1 428.9)" fill="#a0a0a0" stroke="#fff" stroke-width="0.7"/><ellipse cx="342.2" cy="431.3" rx="4.4" ry="3.4" transform="rotate(0 342.2 431.3)" fill="#a0a0a0" stroke="#fff" stroke-width="0.7"/><ellipse cx="350.7" cy="431" rx="4.4" ry="3.4" transform="rotate(0 350.7 431)" fill="#a0a0a0" stroke="#fff" stroke-width="0.7"/><ellipse cx="310" cy="416.8" rx="3.2" ry="2.25" transform="rotate(80 310 416.8)" fill="#000"/><ellipse cx="315.4" cy="418.2" rx="3.2" ry="2.25" transform="rotate(-40 315.4 418.2)" fill="#000"/><ellipse cx="321" cy="413.2" rx="3.2" ry="2.25" transform="rotate(0 321 413.2)" fill="#000"/><ellipse cx="329.8" cy="411.1" rx="3.2" ry="2.25" transform="rotate(15 329.8 411.1)" fill="#000"/><ellipse cx="326.7" cy="416.4" rx="3.2" ry="2.25" transform="rotate(0 326.7 416.4)" fill="#000"/><ellipse cx="334.5" cy="416.1" rx="3.2" ry="2.25" transform="rotate(-50 334.5 416.1)" fill="#000"/><ellipse cx="342.9" cy="417.8" rx="3.2" ry="2.25" transform="rotate(0 342.9 417.8)" fill="#000"/><ellipse cx="351.4" cy="415.7" rx="3.2" ry="2.25" transform="rotate(20 351.4 415.7)" fill="#000"/><ellipse cx="313.6" cy="424.2" rx="3.2" ry="2.25" transform="rotate(0 313.6 424.2)" fill="#000"/><ellipse cx="322.5" cy="421" rx="3.2" ry="2.25" transform="rotate(20 322.5 421)" fill="#000"/><ellipse cx="330" cy="421.6" rx="3.2" ry="2.25" transform="rotate(0 330 421.6)" fill="#000"/><ellipse cx="337.2" cy="422.8" rx="3.2" ry="2.25" transform="rotate(-50 337.2 422.8)" fill="#000"/><ellipse cx="349" cy="421" rx="3.2" ry="2.25" transform="rotate(0 349 421)" fill="#000"/><ellipse cx="311.1" cy="429.2" rx="3.2" ry="2.25" transform="rotate(20 311.1 429.2)" fill="#000"/><ellipse cx="320.3" cy="426.7" rx="3.2" ry="2.25" transform="rotate(-10 320.3 426.7)" fill="#000"/><ellipse cx="328.6" cy="426.4" rx="3.2" ry="2.25" transform="rotate(0 328.6 426.4)" fill="#000"/><ellipse cx="344.3" cy="425.7" rx="3.2" ry="2.25" transform="rotate(20 344.3 425.7)" fill="#000"/><ellipse cx="352.1" cy="426.4" rx="3.2" ry="2.25" transform="rotate(10 352.1 426.4)" fill="#000"/><ellipse cx="325" cy="431.3" rx="3.2" ry="2.25" transform="rotate(10 325 431.3)" fill="#000"/><ellipse cx="332.7" cy="433" rx="3.2" ry="2.25" transform="rotate(30 332.7 433)" fill="#000"/><ellipse cx="335.1" cy="428.9" rx="3.2" ry="2.25" transform="rotate(0 335.1 428.9)" fill="#000"/><ellipse cx="342.2" cy="431.3" rx="3.2" ry="2.25" transform="rotate(0 342.2 431.3)" fill="#000"/><ellipse cx="350.7" cy="431" rx="3.2" ry="2.25" transform="rotate(0 350.7 431)" fill="#000"/>
<path d="M294.1,313.1 L328.4,352.5 M382,314 L345.6,351.5 M327.7,437 L307.5,458.8 M343,437 L367.5,458.8" stroke="#333" stroke-width="0.8" stroke-dasharray="2,1.6" fill="none"/>
<path d="M272.6,288.8 C272.5,283 274.5,278.5 277.2,274.9 C280,271.5 283,269.5 286.5,268 C290.5,266.3 294.5,265.5 298.8,264.9 C304,264.3 309,264.2 314.2,264.2 C319,264.2 324,264.5 329.5,264.9 C335,265.5 340,266.3 344.9,267.2 C353,268.4 362,269 371.5,269.7 C378,270.5 385,274 390.5,277.6 C396,281 401,283.5 406.2,284.7 C409,285.5 411,286 412.3,287.5 C413.6,289.5 413.8,294.5 412.5,297.3 C411,299.8 409,301 406.2,302 C400,304 395,306.5 390.5,308.4 C386.5,310 383,311.5 379.4,312.3 C374,313.6 369,314.3 363.7,314.7 C358,315.3 353,316 348,316.2 C342,316.2 337,315.6 332.6,315.2 C326,314.8 320,314.6 314.2,314.2 C309,313.8 303.5,313.5 298.8,312.6 C294,311.5 290,310.5 286.5,308.8 C282.5,306.5 279.5,304 277.2,301 C274.5,297.5 272.7,293.5 272.6,288.8 Z" fill="#fff" stroke="#3a3a3a" stroke-width="1"/>
<g fill="none" stroke="#8a766a" stroke-width="0.75" stroke-linejoin="round">
<path d="M353.8,289.5 L354.3,290.6 L354.4,291.6 L353.6,292.6 L353.3,293.6 L353.0,294.6 L352.4,295.6 L352.0,296.6 L351.0,297.3 L350.9,298.5 L350.7,299.8 L349.2,300.1 L348.7,301.3 L347.1,301.4 L346.7,302.7 L345.7,303.4 L344.5,303.9 L343.2,304.3 L342.0,304.7 L340.8,305.4 L339.7,306.1 L338.1,305.3 L336.8,305.5 L335.7,306.6 L334.3,307.0 L332.9,306.5 L331.6,306.3 L330.2,306.7 L329.0,305.7 L327.7,305.6 L326.5,305.3 L325.0,305.5 L323.9,304.7 L322.8,304.2 L321.3,304.2 L319.9,304.0 L319.4,302.6 L318.0,302.3 L317.3,301.3 L315.9,301.0 L315.4,299.9 L315.0,298.7 L314.4,297.8 L314.0,296.8 L312.8,296.2 L312.5,295.1 L312.4,294.0 L311.8,293.1 L311.6,292.1 L310.7,291.1 L311.6,290.0 L310.3,289.0 L311.2,287.9 L311.2,286.9 L311.6,285.9 L311.4,284.7 L311.9,283.7 L312.7,282.8 L313.4,281.9 L313.7,280.8 L314.3,279.8 L315.6,279.3 L316.1,278.2 L316.8,277.1 L318.3,276.9 L319.5,276.5 L320.5,275.9 L321.3,274.7 L322.5,274.3 L323.5,273.4 L324.9,273.1 L326.4,273.7 L327.7,273.5 L329.0,273.2 L330.3,273.1 L331.6,272.3 L332.9,272.0 L334.3,272.0 L335.6,273.1 L337.0,272.4 L338.2,273.4 L339.5,273.6 L340.9,273.5 L341.7,274.8 L342.9,275.3 L344.6,274.9 L345.2,276.1 L346.3,276.7 L347.6,277.2 L348.6,277.8 L348.7,279.3 L349.9,279.8 L350.8,280.6 L351.5,281.4 L351.7,282.5 L352.8,283.3 L353.8,284.1 L353.3,285.4 L353.8,286.3 L353.4,287.5 L353.8,288.5 L354.4,289.5" stroke-dasharray="2.8,1.3"/>
<path d="M356.1,289.5 L357.2,290.7 L357.1,292.0 L355.6,293.0 L356.6,294.5 L355.3,295.4 L355.4,296.7 L354.8,297.9 L353.5,298.6 L353.2,300.0 L352.3,301.0 L351.6,302.1 L350.0,302.5 L349.5,303.9 L348.5,304.9 L347.1,305.3 L345.7,305.9 L344.1,305.9 L343.1,307.0 L341.6,307.3 L340.4,308.2 L339.0,308.5 L337.5,308.7 L335.9,308.3 L334.5,309.1 L333.0,309.2 L331.5,308.5 L329.9,309.4 L328.5,308.9 L327.2,307.9 L325.4,308.7 L324.4,307.2 L322.9,307.0 L321.3,307.0 L320.1,306.3 L318.8,305.6 L317.5,304.9 L316.6,303.9 L315.7,303.0 L314.8,301.9 L314.0,300.9 L312.4,300.5 L311.5,299.5 L311.1,298.3 L310.1,297.3 L310.1,296.0 L309.8,294.8 L309.3,293.7 L308.3,292.6 L309.3,291.2 L308.5,290.1 L308.9,288.9 L308.2,287.6 L309.0,286.5 L309.4,285.4 L309.6,284.2 L309.9,282.9 L310.1,281.7 L311.3,280.8 L311.4,279.4 L313.1,279.0 L313.8,277.9 L314.9,277.1 L315.9,276.3 L316.3,274.7 L317.5,274.0 L319.2,273.9 L320.4,273.3 L321.5,272.4 L322.6,271.4 L324.0,270.8 L325.5,270.5 L327.0,270.4 L328.6,270.8 L330.0,270.3 L331.5,270.5 L333.0,270.0 L334.5,270.0 L335.9,270.7 L337.4,270.8 L339.0,270.3 L340.1,271.7 L341.9,271.1 L343.3,271.5 L344.7,272.0 L345.6,273.3 L347.0,273.8 L348.2,274.5 L349.3,275.3 L350.8,275.8 L351.5,277.0 L351.9,278.3 L353.4,278.9 L353.7,280.2 L354.6,281.2 L355.3,282.3 L354.8,283.8 L356.3,284.6 L356.5,285.8 L356.5,287.1 L356.6,288.3 L356.6,289.5" stroke-dasharray="2.2,1.6"/>
</g>
<ellipse cx="333" cy="289.3" rx="18.8" ry="15" fill="#cfe3f6" stroke="#9fb8d6" stroke-width="0.5" />
<ellipse cx="327.2" cy="284.2" rx="4.6" ry="3.4" transform="rotate(-30 327.2 284.2)" fill="#1d3487" stroke="none" stroke-width="1" />
<ellipse cx="336.5" cy="285.7" rx="2.5" ry="4.4" fill="#1d3487" stroke="none" stroke-width="1" />
<ellipse cx="324.2" cy="293.4" rx="2.7" ry="2.0" fill="#1d3487" stroke="none" stroke-width="1" />
<ellipse cx="335.7" cy="295.7" rx="6.4" ry="4.0" transform="rotate(-15 335.7 295.7)" fill="#1d3487" stroke="none" stroke-width="1" />
<ellipse cx="360.5" cy="274.4" rx="5.4" ry="2.4" transform="rotate(5 360.5 274.4)" fill="#45465a" stroke="none" stroke-width="1" />
<g transform="rotate(-15 371.5 285.5)">
<ellipse cx="371.5" cy="285.5" rx="11" ry="6.3" fill="#e0da34" stroke="#8f8a22" stroke-width="0.8"/>
<path d="M363.1,282.9 L364.1,288.1 M366.2,282.1 L367.2,288.9 M369.4,281.8 L370.4,289.2 M372.6,281.8 L373.6,289.2 M375.8,282.1 L376.8,288.9 M378.9,282.9 L379.9,288.1 " stroke="#b5ad1c" stroke-width="0.8" stroke-dasharray="1,0.8" fill="none"/>
</g>
<g transform="rotate(15 386.5 295)">
<ellipse cx="386.5" cy="295" rx="5" ry="12" fill="#e0da34" stroke="#8f8a22" stroke-width="0.8"/>
<path d="M384.4,285.9 L388.6,286.9 M383.9,288.7 L389.1,289.7 M383.6,291.6 L389.4,292.6 M383.5,294.5 L389.5,295.5 M383.6,297.4 L389.4,298.4 M383.9,300.3 L389.1,301.3 M384.4,303.1 L388.6,304.1 " stroke="#b5ad1c" stroke-width="0.8" stroke-dasharray="1,0.8" fill="none"/>
</g>
<g transform="rotate(5 400.7 294.2)">
<ellipse cx="400.7" cy="294.2" rx="9" ry="4.5" fill="#e0da34" stroke="#8f8a22" stroke-width="0.8"/>
<path d="M393.7,292.3 L394.7,296.1 M397.0,291.7 L398.0,296.7 M400.2,291.5 L401.2,296.9 M403.4,291.7 L404.4,296.7 M406.7,292.3 L407.7,296.1 " stroke="#b5ad1c" stroke-width="0.8" stroke-dasharray="1,0.8" fill="none"/>
</g>
<g transform="rotate(-35 373 302.8)">
<ellipse cx="373" cy="302.8" rx="5.5" ry="9" fill="#e0da34" stroke="#8f8a22" stroke-width="0.8"/>
<path d="M370.7,295.8 L375.3,296.8 M369.9,299.1 L376.1,300.1 M369.7,302.3 L376.3,303.3 M369.9,305.5 L376.1,306.5 M370.7,308.8 L375.3,309.8 " stroke="#b5ad1c" stroke-width="0.8" stroke-dasharray="1,0.8" fill="none"/>
</g>
<g transform="rotate(-15 358 307.6)">
<ellipse cx="358" cy="307.6" rx="8.5" ry="4.8" fill="#e0da34" stroke="#8f8a22" stroke-width="0.8"/>
<path d="M351.4,305.6 L352.4,309.6 M354.4,304.9 L355.4,310.3 M357.5,304.7 L358.5,310.5 M360.6,304.9 L361.6,310.3 M363.6,305.6 L364.6,309.6 " stroke="#b5ad1c" stroke-width="0.8" stroke-dasharray="1,0.8" fill="none"/>
</g>
<path d="M293.2,275 C298.5,275.3 300.4,277.5 300.4,282 V299.5 C300.4,304 298.5,306.2 292.6,306.4" fill="none" stroke="#e2582c" stroke-width="2.7" stroke-linecap="round"/>
<path d="M291.2,278.6 C295,278.8 296.4,280.5 296.4,284 V297.5 C296.4,301 295,302.6 291,302.8" fill="none" stroke="#ee8c64" stroke-width="1.8" stroke-linecap="round"/>
<path d="M289.4,281.8 C291.8,282 292.8,283.3 292.8,286 V295 C292.8,297.5 291.8,298.9 289.2,299" fill="none" stroke="#f3a383" stroke-width="1.5" stroke-linecap="round"/>
<path d="M287.6,284.8 C289,285 289.6,286 289.6,287.8 V293 C289.6,294.8 289,295.8 287.4,296" fill="none" stroke="#f7c4a8" stroke-width="1.3" stroke-linecap="round"/>
<circle cx="280" cy="285" r="0.9" fill="#f9e6d6"/>
<circle cx="283" cy="290" r="0.9" fill="#f9e6d6"/>
<circle cx="280" cy="294" r="0.9" fill="#f9e6d6"/>
<circle cx="284" cy="297" r="0.9" fill="#f9e6d6"/>
<circle cx="279" cy="289.5" r="0.9" fill="#f9e6d6"/>
<circle cx="304" cy="272" r="0.5" fill="#9a8c86"/>
<circle cx="306" cy="276" r="0.5" fill="#9a8c86"/>
<circle cx="303" cy="281" r="0.5" fill="#9a8c86"/>
<circle cx="307" cy="284" r="0.5" fill="#9a8c86"/>
<circle cx="304" cy="289" r="0.5" fill="#9a8c86"/>
<circle cx="306" cy="295" r="0.5" fill="#9a8c86"/>
<circle cx="303" cy="300" r="0.5" fill="#9a8c86"/>
<circle cx="307" cy="303" r="0.5" fill="#9a8c86"/>
<circle cx="305" cy="308" r="0.5" fill="#9a8c86"/>
<circle cx="309" cy="270" r="0.5" fill="#9a8c86"/>
<circle cx="302" cy="292" r="0.5" fill="#9a8c86"/>
<circle cx="309" cy="279" r="0.5" fill="#9a8c86"/>
<path d="M419.6,283 V303.8 M419.6,293 H454.2" stroke="#111" stroke-width="1.3"/>
<text x="481.9" y="289.6" font-size="11.5" text-anchor="middle" font-weight="normal" >Metabolic</text>
<text x="481.5" y="302.7" font-size="11.5" text-anchor="middle" font-weight="normal" >targeting</text>
<path d="M386.5,329.5 V341.4" stroke="#111" stroke-width="1.3"/>
<path d="M386.5,321.5 L390.8,331.7 L386.5,329.8 L382.2,331.7 Z" fill="#111"/>
<path d="M386.5,353 V364.8" stroke="#111" stroke-width="1.3"/>
<path d="M386.5,345 L390.8,355.2 L386.5,353.3 L382.2,355.2 Z" fill="#111"/>
<path d="M386.5,375 V386.8" stroke="#111" stroke-width="1.3"/>
<path d="M386.5,367 L390.8,377.2 L386.5,375.3 L382.2,377.2 Z" fill="#111"/>
<path d="M388.7,416.3 V429" stroke="#111" stroke-width="1.3"/>
<path d="M388.7,408.3 L393.0,418.5 L388.7,416.6 L384.4,418.5 Z" fill="#111"/>
<text x="393.3" y="338.2" font-size="11.5" text-anchor="start" font-weight="normal" >Mitochondrial respiration</text>
<text x="393.3" y="361.6" font-size="11.5" text-anchor="start" font-weight="normal" >Amino acid catabolism</text>
<text x="393.3" y="382.4" font-size="11.5" text-anchor="start" font-weight="normal" >Golgi/ER</text>
<text x="404.6" y="425.2" font-size="11.5" text-anchor="start" font-weight="normal" >Proliferation rate</text>
<path d="M277.6,480.5 C277.8,478.5 278.7,475.5 280.0,473.5 C281.3,471.5 282.7,470.2 285.5,468.6 C288.3,467.0 293.1,465.3 297.0,464.1 C300.9,462.9 304.8,462.0 308.6,461.2 C312.5,460.4 316.2,460.1 320.1,459.5 C324.0,458.9 327.2,458.2 331.7,457.8 C336.2,457.4 341.2,457.1 347.3,457.4 C353.4,457.7 363.2,458.7 368.0,459.8 C372.8,460.9 374.0,462.0 376.1,463.8 C378.2,465.6 379.6,468.4 380.7,470.8 C381.8,473.2 382.5,475.6 382.5,478.5 C382.5,481.4 381.8,485.1 380.7,488.0 C379.6,490.9 378.0,493.8 376.1,496.1 C374.2,498.4 372.1,500.4 369.2,501.9 C366.3,503.4 362.8,504.5 358.8,505.2 C354.8,505.9 349.5,505.9 345.0,506.0 C340.5,506.1 336.2,506.0 331.7,505.6 C327.2,505.2 322.6,504.8 317.8,503.9 C313.0,503.0 307.2,501.8 302.8,500.4 C298.4,499.0 294.5,497.4 291.3,495.8 C288.1,494.2 285.6,492.2 283.5,490.5 C281.4,488.8 279.6,487.2 278.6,485.5 C277.6,483.8 277.4,482.5 277.6,480.5 Z" fill="#fff" stroke="#3a3a3a" stroke-width="1"/>
<g fill="none" stroke="#8a766a" stroke-width="0.75" stroke-linejoin="round">
<path d="M355.2,480.5 L355.6,481.3 L354.8,482.1 L355.3,483.0 L355.3,483.8 L354.8,484.6 L354.6,485.4 L354.8,486.4 L354.2,487.2 L352.6,487.5 L352.9,488.7 L352.1,489.3 L350.7,489.6 L350.3,490.5 L349.4,491.1 L348.4,491.5 L348.1,492.6 L347.5,493.6 L345.9,493.5 L345.4,494.7 L344.2,495.0 L342.7,494.8 L342.1,496.2 L340.8,496.2 L339.8,497.1 L338.4,497.1 L337.2,497.5 L335.7,497.2 L334.6,498.1 L333.4,498.5 L332.0,498.5 L330.6,498.0 L329.3,498.6 L328.0,498.2 L326.7,497.6 L325.4,497.5 L324.1,497.5 L322.7,497.5 L321.5,497.3 L320.1,497.6 L318.7,497.7 L317.5,497.2 L316.4,496.7 L315.0,496.7 L314.1,495.8 L312.8,495.7 L311.4,495.6 L310.6,494.7 L309.8,493.9 L308.1,494.2 L307.3,493.4 L306.7,492.4 L305.9,491.8 L304.8,491.3 L304.0,490.7 L303.7,489.7 L303.3,488.9 L302.4,488.3 L301.1,487.9 L301.5,486.8 L300.6,486.2 L300.5,485.3 L300.2,484.5 L300.0,483.7 L299.4,483.0 L299.6,482.1 L299.7,481.3 L299.6,480.5 L299.5,479.7 L299.1,478.8 L299.9,478.1 L300.2,477.3 L299.8,476.4 L300.2,475.6 L300.2,474.7 L301.6,474.3 L301.6,473.3 L302.2,472.6 L303.3,472.1 L302.8,470.7 L304.4,470.6 L305.4,470.1 L305.7,469.1 L307.0,468.8 L307.4,467.7 L308.6,467.4 L309.9,467.2 L311.0,466.8 L311.5,465.5 L312.9,465.6 L313.7,464.5 L315.1,464.6 L316.1,463.6 L317.7,464.2 L318.9,464.0 L320.2,463.7 L321.3,462.7 L322.6,462.8 L324.0,463.1 L325.4,463.4 L326.6,462.5 L328.0,462.1 L329.3,462.7 L330.5,463.7 L331.8,463.7 L333.1,463.8 L334.4,463.9 L335.6,464.3 L336.8,464.5 L338.4,464.0 L339.8,464.0 L340.5,465.3 L342.2,464.7 L342.9,465.8 L344.3,465.9 L345.5,466.2 L346.5,466.8 L346.6,468.3 L347.8,468.6 L349.0,468.9 L350.3,469.3 L350.0,470.7 L351.0,471.2 L352.4,471.5 L352.0,472.8 L353.0,473.3 L353.4,474.1 L354.4,474.7 L355.1,475.4 L354.4,476.5 L355.5,477.1 L355.7,478.0 L356.0,478.8 L355.7,479.7 L356.2,480.5" stroke-dasharray="2.8,1.3"/>
<path d="M357.8,480.5 L357.8,481.4 L357.5,482.3 L358.1,483.4 L357.4,484.2 L356.8,485.1 L356.3,485.9 L356.7,487.1 L356.0,487.9 L355.6,488.9 L354.5,489.5 L354.0,490.4 L352.8,490.9 L352.7,492.2 L351.0,492.3 L350.7,493.5 L350.0,494.5 L348.9,495.1 L347.3,495.1 L346.3,495.8 L345.8,497.1 L344.4,497.4 L343.4,498.2 L342.1,498.7 L340.5,498.6 L339.4,499.6 L338.0,499.7 L336.4,499.4 L335.1,499.7 L333.6,499.5 L332.3,500.2 L331.0,501.1 L329.4,499.9 L328.0,500.7 L326.6,500.0 L325.2,499.9 L323.7,500.7 L322.3,499.9 L321.0,499.5 L319.6,499.4 L318.0,499.9 L316.7,499.5 L315.7,498.3 L314.3,498.3 L312.5,498.8 L311.8,497.4 L310.3,497.3 L309.2,496.6 L307.7,496.5 L306.8,495.6 L305.6,495.2 L304.8,494.2 L304.2,493.2 L303.4,492.5 L302.7,491.6 L300.9,491.5 L301.1,490.1 L300.6,489.3 L298.7,489.0 L299.2,487.7 L297.7,487.2 L298.4,485.9 L297.5,485.2 L297.6,484.2 L296.4,483.4 L296.6,482.4 L296.4,481.5 L296.2,480.5 L296.1,479.5 L297.0,478.6 L296.8,477.7 L297.2,476.8 L298.0,476.0 L297.3,474.8 L298.1,474.0 L298.3,473.0 L299.7,472.5 L299.9,471.4 L300.6,470.6 L301.1,469.6 L302.7,469.4 L303.2,468.4 L303.9,467.5 L305.3,467.2 L305.8,466.1 L306.7,465.2 L308.1,465.0 L309.0,464.1 L310.2,463.6 L311.8,463.6 L312.9,463.0 L313.8,461.7 L315.5,462.2 L316.8,461.7 L318.3,461.9 L319.6,461.5 L321.0,461.3 L322.2,460.0 L323.7,460.2 L325.1,459.9 L326.6,459.7 L328.0,460.2 L329.5,459.8 L330.9,460.5 L332.3,460.8 L333.9,460.2 L335.3,460.5 L336.7,460.7 L337.9,461.7 L339.4,461.6 L340.5,462.5 L342.2,462.1 L343.4,462.7 L344.1,464.0 L345.8,463.8 L346.3,465.2 L347.3,465.9 L349.0,465.9 L349.5,467.0 L350.7,467.5 L351.8,468.1 L351.9,469.4 L353.6,469.6 L353.7,470.8 L354.6,471.5 L355.1,472.4 L356.2,473.0 L356.7,473.9 L356.5,475.0 L356.6,476.0 L357.2,476.8 L357.6,477.7 L357.2,478.7 L357.4,479.6 L358.4,480.5" stroke-dasharray="2.2,1.6"/>
</g>
<ellipse cx="327.5" cy="480.2" rx="25.5" ry="15.6" fill="#cfe3f6" stroke="#9fb8d6" stroke-width="0.5" />
<ellipse cx="317.5" cy="475" rx="6" ry="3.8" transform="rotate(-30 317.5 475)" fill="#1d3487" stroke="none" stroke-width="1" />
<ellipse cx="330" cy="476.3" rx="2.8" ry="4.4" fill="#1d3487" stroke="none" stroke-width="1" />
<ellipse cx="316.3" cy="485" rx="3.0" ry="2.4" fill="#1d3487" stroke="none" stroke-width="1" />
<ellipse cx="332.5" cy="487" rx="9.6" ry="4.0" transform="rotate(-12 332.5 487)" fill="#1d3487" stroke="none" stroke-width="1" />
<ellipse cx="297.4" cy="494.6" rx="5.4" ry="2.8" transform="rotate(8 297.4 494.6)" fill="#45465a" stroke="none" stroke-width="1" />
<g>
<ellipse cx="364.4" cy="466.2" rx="9" ry="4.2" fill="#d0cc48" stroke="#8f8a30" stroke-width="0.8"/>
<path d="M357.4,464.5 L358.4,467.9 M360.7,463.8 L361.7,468.6 M363.9,463.7 L364.9,468.7 M367.1,463.8 L368.1,468.6 M370.4,464.5 L371.4,467.9 " stroke="#a8a030" stroke-width="0.8" stroke-dasharray="1,0.8" fill="none"/>
</g>
<g>
<ellipse cx="360.6" cy="500.5" rx="9" ry="4.4" fill="#d0cc48" stroke="#8f8a30" stroke-width="0.8"/>
<path d="M353.6,498.7 L354.6,502.3 M356.9,498.0 L357.9,503.0 M360.1,497.9 L361.1,503.1 M363.3,498.0 L364.3,503.0 M366.6,498.7 L367.6,502.3 " stroke="#a8a030" stroke-width="0.8" stroke-dasharray="1,0.8" fill="none"/>
</g>
<path d="M289.2,475 C291.6,479 291.6,486 289.2,490" stroke="#f4b08a" stroke-width="2.6" fill="none" stroke-dasharray="1.4,0.7"/>
<circle cx="367" cy="478" r="0.5" fill="#a8a0a8"/>
<circle cx="370" cy="482" r="0.5" fill="#a8a0a8"/>
<circle cx="373" cy="476" r="0.5" fill="#a8a0a8"/>
<circle cx="366" cy="486" r="0.5" fill="#a8a0a8"/>
<circle cx="371" cy="488" r="0.5" fill="#a8a0a8"/>
<circle cx="375" cy="483" r="0.5" fill="#a8a0a8"/>
<circle cx="368" cy="492" r="0.5" fill="#a8a0a8"/>
<circle cx="374" cy="491" r="0.5" fill="#a8a0a8"/>
<circle cx="364" cy="481" r="0.5" fill="#a8a0a8"/>
<path d="M389.4,469.6 V489.8 M389.4,479.8 H424.4" stroke="#111" stroke-width="1.3"/>
<text x="428.5" y="483.2" font-size="11.5" text-anchor="start" font-weight="normal" >Chemotherapy</text>
</g>
</svg>
</body></html>
